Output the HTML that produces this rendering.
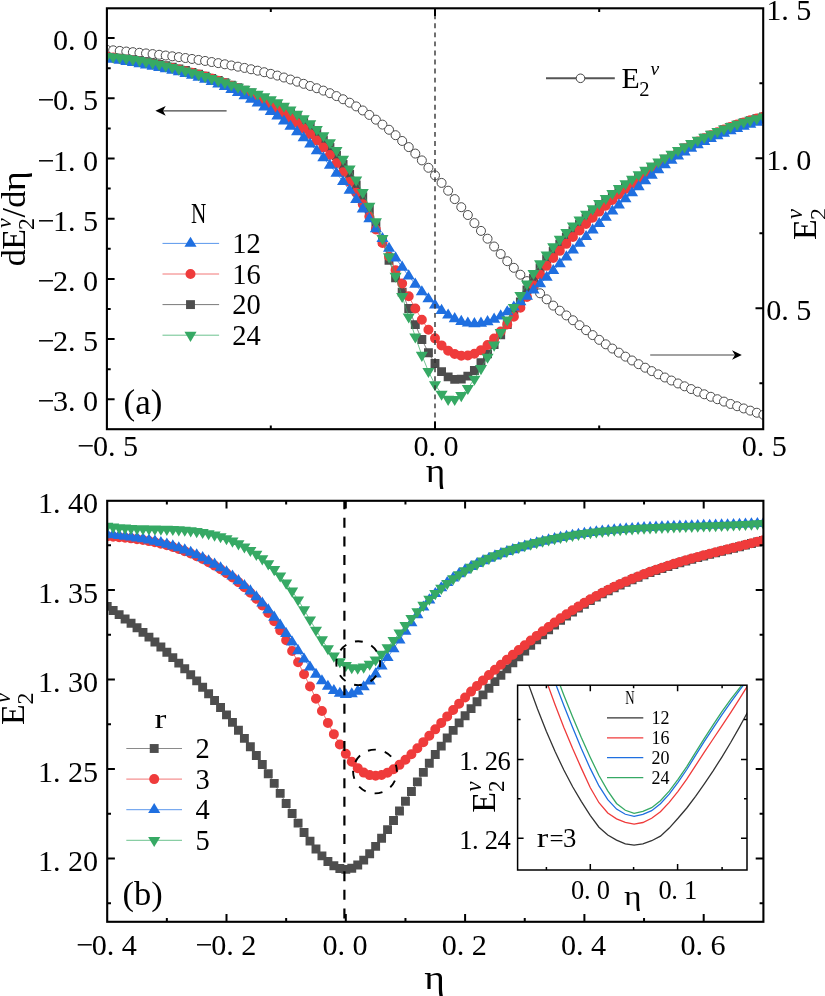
<!DOCTYPE html><html><head><meta charset="utf-8"><style>html,body{margin:0;padding:0;background:#fff;overflow:hidden}svg{display:block;will-change:transform}</style></head><body><svg width="825" height="996" viewBox="0 0 825 996">
<rect width="825" height="996" fill="#fff"/>
<g font-family='"Liberation Serif", serif' fill="#000">
<defs><clipPath id="ca"><rect x="106.9" y="8.3" width="656.3000000000001" height="420.9"/></clipPath><clipPath id="cb"><rect x="107.2" y="500.8" width="656.1999999999999" height="420.99999999999994"/></clipPath><clipPath id="ci"><rect x="517.6" y="685.2" width="229.39999999999998" height="184.79999999999995"/></clipPath></defs>
<g clip-path="url(#ca)">
<path d="M106.60,49.70L113.17,50.30L119.74,50.92L126.30,51.53L132.87,52.15L139.44,52.77L146.01,53.41L152.58,54.08L159.14,54.78L165.71,55.52L172.28,56.30L178.85,57.13L185.42,58.02L191.98,58.95L198.55,59.93L205.12,60.95L211.69,62.02L218.26,63.12L224.82,64.27L231.39,65.45L237.96,66.66L244.53,67.91L251.10,69.25L257.66,70.68L264.23,72.21L270.80,73.83L277.37,75.59L283.94,77.51L290.50,79.54L297.07,81.66L303.64,83.82L310.21,85.98L316.78,88.22L323.34,90.60L329.91,93.20L336.48,96.09L343.05,99.26L349.62,102.70L356.18,106.40L362.75,110.46L369.32,114.92L375.89,119.67L382.46,124.60L389.02,129.75L395.59,135.20L402.16,140.96L408.73,147.08L415.30,153.57L421.86,160.40L428.43,167.77L435.00,175.40L441.57,182.90L448.14,190.70L454.70,199.10L461.27,207.20L467.84,215.00L474.41,223.10L480.98,230.90L487.54,238.70L494.11,246.50L500.68,254.00L507.25,261.20L513.82,267.80L520.38,274.70L526.95,281.10L533.52,287.24L540.09,293.30L546.66,299.30L553.22,305.60L559.79,310.70L566.36,315.41L572.93,320.25L579.50,325.21L586.06,330.18L592.63,335.09L599.20,339.83L605.77,344.30L612.34,348.55L618.90,352.66L625.47,356.64L632.04,360.48L638.61,364.17L645.18,367.70L651.74,371.09L658.31,374.35L664.88,377.49L671.45,380.53L678.02,383.46L684.58,386.30L691.15,389.05L697.72,391.70L704.29,394.28L710.86,396.78L717.42,399.21L723.99,401.60L730.56,403.94L737.13,406.22L743.70,408.45L750.26,410.63L756.83,412.74L763.40,414.80" fill="none" stroke="#555" stroke-width="1"/>
<circle cx="106.60" cy="49.70" r="4.5" fill="#fff" stroke="#4a4a4a" stroke-width="1"/>
<circle cx="113.17" cy="50.30" r="4.5" fill="#fff" stroke="#4a4a4a" stroke-width="1"/>
<circle cx="119.74" cy="50.92" r="4.5" fill="#fff" stroke="#4a4a4a" stroke-width="1"/>
<circle cx="126.30" cy="51.53" r="4.5" fill="#fff" stroke="#4a4a4a" stroke-width="1"/>
<circle cx="132.87" cy="52.15" r="4.5" fill="#fff" stroke="#4a4a4a" stroke-width="1"/>
<circle cx="139.44" cy="52.77" r="4.5" fill="#fff" stroke="#4a4a4a" stroke-width="1"/>
<circle cx="146.01" cy="53.41" r="4.5" fill="#fff" stroke="#4a4a4a" stroke-width="1"/>
<circle cx="152.58" cy="54.08" r="4.5" fill="#fff" stroke="#4a4a4a" stroke-width="1"/>
<circle cx="159.14" cy="54.78" r="4.5" fill="#fff" stroke="#4a4a4a" stroke-width="1"/>
<circle cx="165.71" cy="55.52" r="4.5" fill="#fff" stroke="#4a4a4a" stroke-width="1"/>
<circle cx="172.28" cy="56.30" r="4.5" fill="#fff" stroke="#4a4a4a" stroke-width="1"/>
<circle cx="178.85" cy="57.13" r="4.5" fill="#fff" stroke="#4a4a4a" stroke-width="1"/>
<circle cx="185.42" cy="58.02" r="4.5" fill="#fff" stroke="#4a4a4a" stroke-width="1"/>
<circle cx="191.98" cy="58.95" r="4.5" fill="#fff" stroke="#4a4a4a" stroke-width="1"/>
<circle cx="198.55" cy="59.93" r="4.5" fill="#fff" stroke="#4a4a4a" stroke-width="1"/>
<circle cx="205.12" cy="60.95" r="4.5" fill="#fff" stroke="#4a4a4a" stroke-width="1"/>
<circle cx="211.69" cy="62.02" r="4.5" fill="#fff" stroke="#4a4a4a" stroke-width="1"/>
<circle cx="218.26" cy="63.12" r="4.5" fill="#fff" stroke="#4a4a4a" stroke-width="1"/>
<circle cx="224.82" cy="64.27" r="4.5" fill="#fff" stroke="#4a4a4a" stroke-width="1"/>
<circle cx="231.39" cy="65.45" r="4.5" fill="#fff" stroke="#4a4a4a" stroke-width="1"/>
<circle cx="237.96" cy="66.66" r="4.5" fill="#fff" stroke="#4a4a4a" stroke-width="1"/>
<circle cx="244.53" cy="67.91" r="4.5" fill="#fff" stroke="#4a4a4a" stroke-width="1"/>
<circle cx="251.10" cy="69.25" r="4.5" fill="#fff" stroke="#4a4a4a" stroke-width="1"/>
<circle cx="257.66" cy="70.68" r="4.5" fill="#fff" stroke="#4a4a4a" stroke-width="1"/>
<circle cx="264.23" cy="72.21" r="4.5" fill="#fff" stroke="#4a4a4a" stroke-width="1"/>
<circle cx="270.80" cy="73.83" r="4.5" fill="#fff" stroke="#4a4a4a" stroke-width="1"/>
<circle cx="277.37" cy="75.59" r="4.5" fill="#fff" stroke="#4a4a4a" stroke-width="1"/>
<circle cx="283.94" cy="77.51" r="4.5" fill="#fff" stroke="#4a4a4a" stroke-width="1"/>
<circle cx="290.50" cy="79.54" r="4.5" fill="#fff" stroke="#4a4a4a" stroke-width="1"/>
<circle cx="297.07" cy="81.66" r="4.5" fill="#fff" stroke="#4a4a4a" stroke-width="1"/>
<circle cx="303.64" cy="83.82" r="4.5" fill="#fff" stroke="#4a4a4a" stroke-width="1"/>
<circle cx="310.21" cy="85.98" r="4.5" fill="#fff" stroke="#4a4a4a" stroke-width="1"/>
<circle cx="316.78" cy="88.22" r="4.5" fill="#fff" stroke="#4a4a4a" stroke-width="1"/>
<circle cx="323.34" cy="90.60" r="4.5" fill="#fff" stroke="#4a4a4a" stroke-width="1"/>
<circle cx="329.91" cy="93.20" r="4.5" fill="#fff" stroke="#4a4a4a" stroke-width="1"/>
<circle cx="336.48" cy="96.09" r="4.5" fill="#fff" stroke="#4a4a4a" stroke-width="1"/>
<circle cx="343.05" cy="99.26" r="4.5" fill="#fff" stroke="#4a4a4a" stroke-width="1"/>
<circle cx="349.62" cy="102.70" r="4.5" fill="#fff" stroke="#4a4a4a" stroke-width="1"/>
<circle cx="356.18" cy="106.40" r="4.5" fill="#fff" stroke="#4a4a4a" stroke-width="1"/>
<circle cx="362.75" cy="110.46" r="4.5" fill="#fff" stroke="#4a4a4a" stroke-width="1"/>
<circle cx="369.32" cy="114.92" r="4.5" fill="#fff" stroke="#4a4a4a" stroke-width="1"/>
<circle cx="375.89" cy="119.67" r="4.5" fill="#fff" stroke="#4a4a4a" stroke-width="1"/>
<circle cx="382.46" cy="124.60" r="4.5" fill="#fff" stroke="#4a4a4a" stroke-width="1"/>
<circle cx="389.02" cy="129.75" r="4.5" fill="#fff" stroke="#4a4a4a" stroke-width="1"/>
<circle cx="395.59" cy="135.20" r="4.5" fill="#fff" stroke="#4a4a4a" stroke-width="1"/>
<circle cx="402.16" cy="140.96" r="4.5" fill="#fff" stroke="#4a4a4a" stroke-width="1"/>
<circle cx="408.73" cy="147.08" r="4.5" fill="#fff" stroke="#4a4a4a" stroke-width="1"/>
<circle cx="415.30" cy="153.57" r="4.5" fill="#fff" stroke="#4a4a4a" stroke-width="1"/>
<circle cx="421.86" cy="160.40" r="4.5" fill="#fff" stroke="#4a4a4a" stroke-width="1"/>
<circle cx="428.43" cy="167.77" r="4.5" fill="#fff" stroke="#4a4a4a" stroke-width="1"/>
<circle cx="435.00" cy="175.40" r="4.5" fill="#fff" stroke="#4a4a4a" stroke-width="1"/>
<circle cx="441.57" cy="182.90" r="4.5" fill="#fff" stroke="#4a4a4a" stroke-width="1"/>
<circle cx="448.14" cy="190.70" r="4.5" fill="#fff" stroke="#4a4a4a" stroke-width="1"/>
<circle cx="454.70" cy="199.10" r="4.5" fill="#fff" stroke="#4a4a4a" stroke-width="1"/>
<circle cx="461.27" cy="207.20" r="4.5" fill="#fff" stroke="#4a4a4a" stroke-width="1"/>
<circle cx="467.84" cy="215.00" r="4.5" fill="#fff" stroke="#4a4a4a" stroke-width="1"/>
<circle cx="474.41" cy="223.10" r="4.5" fill="#fff" stroke="#4a4a4a" stroke-width="1"/>
<circle cx="480.98" cy="230.90" r="4.5" fill="#fff" stroke="#4a4a4a" stroke-width="1"/>
<circle cx="487.54" cy="238.70" r="4.5" fill="#fff" stroke="#4a4a4a" stroke-width="1"/>
<circle cx="494.11" cy="246.50" r="4.5" fill="#fff" stroke="#4a4a4a" stroke-width="1"/>
<circle cx="500.68" cy="254.00" r="4.5" fill="#fff" stroke="#4a4a4a" stroke-width="1"/>
<circle cx="507.25" cy="261.20" r="4.5" fill="#fff" stroke="#4a4a4a" stroke-width="1"/>
<circle cx="513.82" cy="267.80" r="4.5" fill="#fff" stroke="#4a4a4a" stroke-width="1"/>
<circle cx="520.38" cy="274.70" r="4.5" fill="#fff" stroke="#4a4a4a" stroke-width="1"/>
<circle cx="526.95" cy="281.10" r="4.5" fill="#fff" stroke="#4a4a4a" stroke-width="1"/>
<circle cx="533.52" cy="287.24" r="4.5" fill="#fff" stroke="#4a4a4a" stroke-width="1"/>
<circle cx="540.09" cy="293.30" r="4.5" fill="#fff" stroke="#4a4a4a" stroke-width="1"/>
<circle cx="546.66" cy="299.30" r="4.5" fill="#fff" stroke="#4a4a4a" stroke-width="1"/>
<circle cx="553.22" cy="305.60" r="4.5" fill="#fff" stroke="#4a4a4a" stroke-width="1"/>
<circle cx="559.79" cy="310.70" r="4.5" fill="#fff" stroke="#4a4a4a" stroke-width="1"/>
<circle cx="566.36" cy="315.41" r="4.5" fill="#fff" stroke="#4a4a4a" stroke-width="1"/>
<circle cx="572.93" cy="320.25" r="4.5" fill="#fff" stroke="#4a4a4a" stroke-width="1"/>
<circle cx="579.50" cy="325.21" r="4.5" fill="#fff" stroke="#4a4a4a" stroke-width="1"/>
<circle cx="586.06" cy="330.18" r="4.5" fill="#fff" stroke="#4a4a4a" stroke-width="1"/>
<circle cx="592.63" cy="335.09" r="4.5" fill="#fff" stroke="#4a4a4a" stroke-width="1"/>
<circle cx="599.20" cy="339.83" r="4.5" fill="#fff" stroke="#4a4a4a" stroke-width="1"/>
<circle cx="605.77" cy="344.30" r="4.5" fill="#fff" stroke="#4a4a4a" stroke-width="1"/>
<circle cx="612.34" cy="348.55" r="4.5" fill="#fff" stroke="#4a4a4a" stroke-width="1"/>
<circle cx="618.90" cy="352.66" r="4.5" fill="#fff" stroke="#4a4a4a" stroke-width="1"/>
<circle cx="625.47" cy="356.64" r="4.5" fill="#fff" stroke="#4a4a4a" stroke-width="1"/>
<circle cx="632.04" cy="360.48" r="4.5" fill="#fff" stroke="#4a4a4a" stroke-width="1"/>
<circle cx="638.61" cy="364.17" r="4.5" fill="#fff" stroke="#4a4a4a" stroke-width="1"/>
<circle cx="645.18" cy="367.70" r="4.5" fill="#fff" stroke="#4a4a4a" stroke-width="1"/>
<circle cx="651.74" cy="371.09" r="4.5" fill="#fff" stroke="#4a4a4a" stroke-width="1"/>
<circle cx="658.31" cy="374.35" r="4.5" fill="#fff" stroke="#4a4a4a" stroke-width="1"/>
<circle cx="664.88" cy="377.49" r="4.5" fill="#fff" stroke="#4a4a4a" stroke-width="1"/>
<circle cx="671.45" cy="380.53" r="4.5" fill="#fff" stroke="#4a4a4a" stroke-width="1"/>
<circle cx="678.02" cy="383.46" r="4.5" fill="#fff" stroke="#4a4a4a" stroke-width="1"/>
<circle cx="684.58" cy="386.30" r="4.5" fill="#fff" stroke="#4a4a4a" stroke-width="1"/>
<circle cx="691.15" cy="389.05" r="4.5" fill="#fff" stroke="#4a4a4a" stroke-width="1"/>
<circle cx="697.72" cy="391.70" r="4.5" fill="#fff" stroke="#4a4a4a" stroke-width="1"/>
<circle cx="704.29" cy="394.28" r="4.5" fill="#fff" stroke="#4a4a4a" stroke-width="1"/>
<circle cx="710.86" cy="396.78" r="4.5" fill="#fff" stroke="#4a4a4a" stroke-width="1"/>
<circle cx="717.42" cy="399.21" r="4.5" fill="#fff" stroke="#4a4a4a" stroke-width="1"/>
<circle cx="723.99" cy="401.60" r="4.5" fill="#fff" stroke="#4a4a4a" stroke-width="1"/>
<circle cx="730.56" cy="403.94" r="4.5" fill="#fff" stroke="#4a4a4a" stroke-width="1"/>
<circle cx="737.13" cy="406.22" r="4.5" fill="#fff" stroke="#4a4a4a" stroke-width="1"/>
<circle cx="743.70" cy="408.45" r="4.5" fill="#fff" stroke="#4a4a4a" stroke-width="1"/>
<circle cx="750.26" cy="410.63" r="4.5" fill="#fff" stroke="#4a4a4a" stroke-width="1"/>
<circle cx="756.83" cy="412.74" r="4.5" fill="#fff" stroke="#4a4a4a" stroke-width="1"/>
<circle cx="763.40" cy="414.80" r="4.5" fill="#fff" stroke="#4a4a4a" stroke-width="1"/>
<path d="M106.60,56.98L113.17,57.52L119.74,58.16L126.30,58.92L132.87,59.78L139.44,60.76L146.01,61.85L152.58,63.04L159.14,64.33L165.71,65.73L172.28,67.24L178.85,68.84L185.42,70.55L191.98,72.35L198.55,74.25L205.12,76.25L211.69,78.34L218.26,80.53L224.82,82.81L231.39,85.18L237.96,87.64L244.53,90.19L251.10,92.83L257.66,95.56L264.23,98.44L270.80,101.51L277.37,104.84L283.94,108.48L290.50,112.48L297.07,116.91L303.64,121.82L310.21,127.26L316.78,133.29L323.34,139.98L329.91,147.36L336.48,155.51L343.05,164.47L349.62,174.30L356.18,185.06L362.75,196.80L369.32,209.67L375.89,224.23L382.46,241.18L389.02,260.24L395.59,277.79L402.16,292.15L408.73,308.47L415.30,324.64L421.86,339.55L428.43,352.68L435.00,363.51L441.57,371.61L448.14,376.90L454.70,379.41L461.27,379.14L467.84,376.12L474.41,370.44L480.98,362.73L487.54,353.86L494.11,344.55L500.68,334.86L507.25,324.62L513.82,313.64L520.38,301.87L526.95,289.87L533.52,278.33L540.09,267.93L546.66,259.12L553.22,251.42L559.79,244.20L566.36,237.32L572.93,230.74L579.50,224.45L586.06,218.41L592.63,212.58L599.20,206.94L605.77,201.47L612.34,196.15L618.90,190.99L625.47,185.99L632.04,181.15L638.61,176.47L645.18,171.94L651.74,167.57L658.31,163.35L664.88,159.30L671.45,155.39L678.02,151.65L684.58,148.06L691.15,144.63L697.72,141.35L704.29,138.22L710.86,135.25L717.42,132.44L723.99,129.77L730.56,127.27L737.13,124.91L743.70,122.71L750.26,120.66L756.83,118.77L763.40,117.03" fill="none" stroke="#4d4d4d" stroke-width="0.7"/><path d="M102.15,52.53h8.9v8.9h-8.9ZM108.72,53.07h8.9v8.9h-8.9ZM115.29,53.71h8.9v8.9h-8.9ZM121.85,54.47h8.9v8.9h-8.9ZM128.42,55.33h8.9v8.9h-8.9ZM134.99,56.31h8.9v8.9h-8.9ZM141.56,57.40h8.9v8.9h-8.9ZM148.13,58.59h8.9v8.9h-8.9ZM154.69,59.88h8.9v8.9h-8.9ZM161.26,61.28h8.9v8.9h-8.9ZM167.83,62.79h8.9v8.9h-8.9ZM174.40,64.39h8.9v8.9h-8.9ZM180.97,66.10h8.9v8.9h-8.9ZM187.53,67.90h8.9v8.9h-8.9ZM194.10,69.80h8.9v8.9h-8.9ZM200.67,71.80h8.9v8.9h-8.9ZM207.24,73.89h8.9v8.9h-8.9ZM213.81,76.08h8.9v8.9h-8.9ZM220.37,78.36h8.9v8.9h-8.9ZM226.94,80.73h8.9v8.9h-8.9ZM233.51,83.19h8.9v8.9h-8.9ZM240.08,85.74h8.9v8.9h-8.9ZM246.65,88.38h8.9v8.9h-8.9ZM253.21,91.11h8.9v8.9h-8.9ZM259.78,93.99h8.9v8.9h-8.9ZM266.35,97.06h8.9v8.9h-8.9ZM272.92,100.39h8.9v8.9h-8.9ZM279.49,104.03h8.9v8.9h-8.9ZM286.05,108.03h8.9v8.9h-8.9ZM292.62,112.46h8.9v8.9h-8.9ZM299.19,117.37h8.9v8.9h-8.9ZM305.76,122.81h8.9v8.9h-8.9ZM312.33,128.84h8.9v8.9h-8.9ZM318.89,135.53h8.9v8.9h-8.9ZM325.46,142.91h8.9v8.9h-8.9ZM332.03,151.06h8.9v8.9h-8.9ZM338.60,160.02h8.9v8.9h-8.9ZM345.17,169.85h8.9v8.9h-8.9ZM351.73,180.61h8.9v8.9h-8.9ZM358.30,192.35h8.9v8.9h-8.9ZM364.87,205.22h8.9v8.9h-8.9ZM371.44,219.78h8.9v8.9h-8.9ZM378.01,236.73h8.9v8.9h-8.9ZM384.57,255.79h8.9v8.9h-8.9ZM391.14,273.34h8.9v8.9h-8.9ZM397.71,287.70h8.9v8.9h-8.9ZM404.28,304.02h8.9v8.9h-8.9ZM410.85,320.19h8.9v8.9h-8.9ZM417.41,335.10h8.9v8.9h-8.9ZM423.98,348.23h8.9v8.9h-8.9ZM430.55,359.06h8.9v8.9h-8.9ZM437.12,367.16h8.9v8.9h-8.9ZM443.69,372.45h8.9v8.9h-8.9ZM450.25,374.96h8.9v8.9h-8.9ZM456.82,374.69h8.9v8.9h-8.9ZM463.39,371.67h8.9v8.9h-8.9ZM469.96,365.99h8.9v8.9h-8.9ZM476.53,358.28h8.9v8.9h-8.9ZM483.09,349.41h8.9v8.9h-8.9ZM489.66,340.10h8.9v8.9h-8.9ZM496.23,330.41h8.9v8.9h-8.9ZM502.80,320.17h8.9v8.9h-8.9ZM509.37,309.19h8.9v8.9h-8.9ZM515.93,297.42h8.9v8.9h-8.9ZM522.50,285.42h8.9v8.9h-8.9ZM529.07,273.88h8.9v8.9h-8.9ZM535.64,263.48h8.9v8.9h-8.9ZM542.21,254.67h8.9v8.9h-8.9ZM548.77,246.97h8.9v8.9h-8.9ZM555.34,239.75h8.9v8.9h-8.9ZM561.91,232.87h8.9v8.9h-8.9ZM568.48,226.29h8.9v8.9h-8.9ZM575.05,220.00h8.9v8.9h-8.9ZM581.61,213.96h8.9v8.9h-8.9ZM588.18,208.13h8.9v8.9h-8.9ZM594.75,202.49h8.9v8.9h-8.9ZM601.32,197.02h8.9v8.9h-8.9ZM607.89,191.70h8.9v8.9h-8.9ZM614.45,186.54h8.9v8.9h-8.9ZM621.02,181.54h8.9v8.9h-8.9ZM627.59,176.70h8.9v8.9h-8.9ZM634.16,172.02h8.9v8.9h-8.9ZM640.73,167.49h8.9v8.9h-8.9ZM647.29,163.12h8.9v8.9h-8.9ZM653.86,158.90h8.9v8.9h-8.9ZM660.43,154.85h8.9v8.9h-8.9ZM667.00,150.94h8.9v8.9h-8.9ZM673.57,147.20h8.9v8.9h-8.9ZM680.13,143.61h8.9v8.9h-8.9ZM686.70,140.18h8.9v8.9h-8.9ZM693.27,136.90h8.9v8.9h-8.9ZM699.84,133.77h8.9v8.9h-8.9ZM706.41,130.80h8.9v8.9h-8.9ZM712.97,127.99h8.9v8.9h-8.9ZM719.54,125.32h8.9v8.9h-8.9ZM726.11,122.82h8.9v8.9h-8.9ZM732.68,120.46h8.9v8.9h-8.9ZM739.25,118.26h8.9v8.9h-8.9ZM745.81,116.21h8.9v8.9h-8.9ZM752.38,114.32h8.9v8.9h-8.9ZM758.95,112.58h8.9v8.9h-8.9Z" fill="#4d4d4d"/>
<path d="M106.60,56.55L113.17,57.60L119.74,58.64L126.30,59.68L132.87,60.75L139.44,61.84L146.01,62.97L152.58,64.15L159.14,65.39L165.71,66.70L172.28,68.08L178.85,69.55L185.42,71.13L191.98,72.81L198.55,74.61L205.12,76.54L211.69,78.61L218.26,80.83L224.82,83.21L231.39,85.76L237.96,88.49L244.53,91.41L251.10,94.54L257.66,97.87L264.23,101.42L270.80,105.21L277.37,109.23L283.94,113.52L290.50,118.11L297.07,123.05L303.64,128.42L310.21,134.24L316.78,140.59L323.34,147.52L329.91,155.07L336.48,163.30L343.05,172.27L349.62,182.04L356.18,192.64L362.75,204.14L369.32,216.50L375.89,229.51L382.46,242.93L389.02,256.55L395.59,270.14L402.16,283.48L408.73,296.32L415.30,308.46L421.86,319.67L428.43,329.71L435.00,338.36L441.57,345.40L448.14,350.63L454.70,354.05L461.27,355.68L467.84,355.55L474.41,353.69L480.98,350.13L487.54,344.95L494.11,338.57L500.68,331.55L507.25,324.39L513.82,316.69L520.38,307.74L526.95,296.99L533.52,285.43L540.09,274.83L546.66,265.85L553.22,258.04L559.79,250.84L566.36,243.85L572.93,237.05L579.50,230.42L586.06,223.98L592.63,217.71L599.20,211.62L605.77,205.71L612.34,199.97L618.90,194.41L625.47,189.04L632.04,183.83L638.61,178.81L645.18,173.96L651.74,169.29L658.31,164.80L664.88,160.48L671.45,156.34L678.02,152.37L684.58,148.59L691.15,144.97L697.72,141.54L704.29,138.27L710.86,135.19L717.42,132.28L723.99,129.54L730.56,126.98L737.13,124.60L743.70,122.39L750.26,120.35L756.83,118.49L763.40,116.80" fill="none" stroke="#ef3b3b" stroke-width="0.7"/><path d="M101.60,56.55a5.0,5.0 0 1,0 10.0,0a5.0,5.0 0 1,0 -10.0,0ZM108.17,57.60a5.0,5.0 0 1,0 10.0,0a5.0,5.0 0 1,0 -10.0,0ZM114.74,58.64a5.0,5.0 0 1,0 10.0,0a5.0,5.0 0 1,0 -10.0,0ZM121.30,59.68a5.0,5.0 0 1,0 10.0,0a5.0,5.0 0 1,0 -10.0,0ZM127.87,60.75a5.0,5.0 0 1,0 10.0,0a5.0,5.0 0 1,0 -10.0,0ZM134.44,61.84a5.0,5.0 0 1,0 10.0,0a5.0,5.0 0 1,0 -10.0,0ZM141.01,62.97a5.0,5.0 0 1,0 10.0,0a5.0,5.0 0 1,0 -10.0,0ZM147.58,64.15a5.0,5.0 0 1,0 10.0,0a5.0,5.0 0 1,0 -10.0,0ZM154.14,65.39a5.0,5.0 0 1,0 10.0,0a5.0,5.0 0 1,0 -10.0,0ZM160.71,66.70a5.0,5.0 0 1,0 10.0,0a5.0,5.0 0 1,0 -10.0,0ZM167.28,68.08a5.0,5.0 0 1,0 10.0,0a5.0,5.0 0 1,0 -10.0,0ZM173.85,69.55a5.0,5.0 0 1,0 10.0,0a5.0,5.0 0 1,0 -10.0,0ZM180.42,71.13a5.0,5.0 0 1,0 10.0,0a5.0,5.0 0 1,0 -10.0,0ZM186.98,72.81a5.0,5.0 0 1,0 10.0,0a5.0,5.0 0 1,0 -10.0,0ZM193.55,74.61a5.0,5.0 0 1,0 10.0,0a5.0,5.0 0 1,0 -10.0,0ZM200.12,76.54a5.0,5.0 0 1,0 10.0,0a5.0,5.0 0 1,0 -10.0,0ZM206.69,78.61a5.0,5.0 0 1,0 10.0,0a5.0,5.0 0 1,0 -10.0,0ZM213.26,80.83a5.0,5.0 0 1,0 10.0,0a5.0,5.0 0 1,0 -10.0,0ZM219.82,83.21a5.0,5.0 0 1,0 10.0,0a5.0,5.0 0 1,0 -10.0,0ZM226.39,85.76a5.0,5.0 0 1,0 10.0,0a5.0,5.0 0 1,0 -10.0,0ZM232.96,88.49a5.0,5.0 0 1,0 10.0,0a5.0,5.0 0 1,0 -10.0,0ZM239.53,91.41a5.0,5.0 0 1,0 10.0,0a5.0,5.0 0 1,0 -10.0,0ZM246.10,94.54a5.0,5.0 0 1,0 10.0,0a5.0,5.0 0 1,0 -10.0,0ZM252.66,97.87a5.0,5.0 0 1,0 10.0,0a5.0,5.0 0 1,0 -10.0,0ZM259.23,101.42a5.0,5.0 0 1,0 10.0,0a5.0,5.0 0 1,0 -10.0,0ZM265.80,105.21a5.0,5.0 0 1,0 10.0,0a5.0,5.0 0 1,0 -10.0,0ZM272.37,109.23a5.0,5.0 0 1,0 10.0,0a5.0,5.0 0 1,0 -10.0,0ZM278.94,113.52a5.0,5.0 0 1,0 10.0,0a5.0,5.0 0 1,0 -10.0,0ZM285.50,118.11a5.0,5.0 0 1,0 10.0,0a5.0,5.0 0 1,0 -10.0,0ZM292.07,123.05a5.0,5.0 0 1,0 10.0,0a5.0,5.0 0 1,0 -10.0,0ZM298.64,128.42a5.0,5.0 0 1,0 10.0,0a5.0,5.0 0 1,0 -10.0,0ZM305.21,134.24a5.0,5.0 0 1,0 10.0,0a5.0,5.0 0 1,0 -10.0,0ZM311.78,140.59a5.0,5.0 0 1,0 10.0,0a5.0,5.0 0 1,0 -10.0,0ZM318.34,147.52a5.0,5.0 0 1,0 10.0,0a5.0,5.0 0 1,0 -10.0,0ZM324.91,155.07a5.0,5.0 0 1,0 10.0,0a5.0,5.0 0 1,0 -10.0,0ZM331.48,163.30a5.0,5.0 0 1,0 10.0,0a5.0,5.0 0 1,0 -10.0,0ZM338.05,172.27a5.0,5.0 0 1,0 10.0,0a5.0,5.0 0 1,0 -10.0,0ZM344.62,182.04a5.0,5.0 0 1,0 10.0,0a5.0,5.0 0 1,0 -10.0,0ZM351.18,192.64a5.0,5.0 0 1,0 10.0,0a5.0,5.0 0 1,0 -10.0,0ZM357.75,204.14a5.0,5.0 0 1,0 10.0,0a5.0,5.0 0 1,0 -10.0,0ZM364.32,216.50a5.0,5.0 0 1,0 10.0,0a5.0,5.0 0 1,0 -10.0,0ZM370.89,229.51a5.0,5.0 0 1,0 10.0,0a5.0,5.0 0 1,0 -10.0,0ZM377.46,242.93a5.0,5.0 0 1,0 10.0,0a5.0,5.0 0 1,0 -10.0,0ZM384.02,256.55a5.0,5.0 0 1,0 10.0,0a5.0,5.0 0 1,0 -10.0,0ZM390.59,270.14a5.0,5.0 0 1,0 10.0,0a5.0,5.0 0 1,0 -10.0,0ZM397.16,283.48a5.0,5.0 0 1,0 10.0,0a5.0,5.0 0 1,0 -10.0,0ZM403.73,296.32a5.0,5.0 0 1,0 10.0,0a5.0,5.0 0 1,0 -10.0,0ZM410.30,308.46a5.0,5.0 0 1,0 10.0,0a5.0,5.0 0 1,0 -10.0,0ZM416.86,319.67a5.0,5.0 0 1,0 10.0,0a5.0,5.0 0 1,0 -10.0,0ZM423.43,329.71a5.0,5.0 0 1,0 10.0,0a5.0,5.0 0 1,0 -10.0,0ZM430.00,338.36a5.0,5.0 0 1,0 10.0,0a5.0,5.0 0 1,0 -10.0,0ZM436.57,345.40a5.0,5.0 0 1,0 10.0,0a5.0,5.0 0 1,0 -10.0,0ZM443.14,350.63a5.0,5.0 0 1,0 10.0,0a5.0,5.0 0 1,0 -10.0,0ZM449.70,354.05a5.0,5.0 0 1,0 10.0,0a5.0,5.0 0 1,0 -10.0,0ZM456.27,355.68a5.0,5.0 0 1,0 10.0,0a5.0,5.0 0 1,0 -10.0,0ZM462.84,355.55a5.0,5.0 0 1,0 10.0,0a5.0,5.0 0 1,0 -10.0,0ZM469.41,353.69a5.0,5.0 0 1,0 10.0,0a5.0,5.0 0 1,0 -10.0,0ZM475.98,350.13a5.0,5.0 0 1,0 10.0,0a5.0,5.0 0 1,0 -10.0,0ZM482.54,344.95a5.0,5.0 0 1,0 10.0,0a5.0,5.0 0 1,0 -10.0,0ZM489.11,338.57a5.0,5.0 0 1,0 10.0,0a5.0,5.0 0 1,0 -10.0,0ZM495.68,331.55a5.0,5.0 0 1,0 10.0,0a5.0,5.0 0 1,0 -10.0,0ZM502.25,324.39a5.0,5.0 0 1,0 10.0,0a5.0,5.0 0 1,0 -10.0,0ZM508.82,316.69a5.0,5.0 0 1,0 10.0,0a5.0,5.0 0 1,0 -10.0,0ZM515.38,307.74a5.0,5.0 0 1,0 10.0,0a5.0,5.0 0 1,0 -10.0,0ZM521.95,296.99a5.0,5.0 0 1,0 10.0,0a5.0,5.0 0 1,0 -10.0,0ZM528.52,285.43a5.0,5.0 0 1,0 10.0,0a5.0,5.0 0 1,0 -10.0,0ZM535.09,274.83a5.0,5.0 0 1,0 10.0,0a5.0,5.0 0 1,0 -10.0,0ZM541.66,265.85a5.0,5.0 0 1,0 10.0,0a5.0,5.0 0 1,0 -10.0,0ZM548.22,258.04a5.0,5.0 0 1,0 10.0,0a5.0,5.0 0 1,0 -10.0,0ZM554.79,250.84a5.0,5.0 0 1,0 10.0,0a5.0,5.0 0 1,0 -10.0,0ZM561.36,243.85a5.0,5.0 0 1,0 10.0,0a5.0,5.0 0 1,0 -10.0,0ZM567.93,237.05a5.0,5.0 0 1,0 10.0,0a5.0,5.0 0 1,0 -10.0,0ZM574.50,230.42a5.0,5.0 0 1,0 10.0,0a5.0,5.0 0 1,0 -10.0,0ZM581.06,223.98a5.0,5.0 0 1,0 10.0,0a5.0,5.0 0 1,0 -10.0,0ZM587.63,217.71a5.0,5.0 0 1,0 10.0,0a5.0,5.0 0 1,0 -10.0,0ZM594.20,211.62a5.0,5.0 0 1,0 10.0,0a5.0,5.0 0 1,0 -10.0,0ZM600.77,205.71a5.0,5.0 0 1,0 10.0,0a5.0,5.0 0 1,0 -10.0,0ZM607.34,199.97a5.0,5.0 0 1,0 10.0,0a5.0,5.0 0 1,0 -10.0,0ZM613.90,194.41a5.0,5.0 0 1,0 10.0,0a5.0,5.0 0 1,0 -10.0,0ZM620.47,189.04a5.0,5.0 0 1,0 10.0,0a5.0,5.0 0 1,0 -10.0,0ZM627.04,183.83a5.0,5.0 0 1,0 10.0,0a5.0,5.0 0 1,0 -10.0,0ZM633.61,178.81a5.0,5.0 0 1,0 10.0,0a5.0,5.0 0 1,0 -10.0,0ZM640.18,173.96a5.0,5.0 0 1,0 10.0,0a5.0,5.0 0 1,0 -10.0,0ZM646.74,169.29a5.0,5.0 0 1,0 10.0,0a5.0,5.0 0 1,0 -10.0,0ZM653.31,164.80a5.0,5.0 0 1,0 10.0,0a5.0,5.0 0 1,0 -10.0,0ZM659.88,160.48a5.0,5.0 0 1,0 10.0,0a5.0,5.0 0 1,0 -10.0,0ZM666.45,156.34a5.0,5.0 0 1,0 10.0,0a5.0,5.0 0 1,0 -10.0,0ZM673.02,152.37a5.0,5.0 0 1,0 10.0,0a5.0,5.0 0 1,0 -10.0,0ZM679.58,148.59a5.0,5.0 0 1,0 10.0,0a5.0,5.0 0 1,0 -10.0,0ZM686.15,144.97a5.0,5.0 0 1,0 10.0,0a5.0,5.0 0 1,0 -10.0,0ZM692.72,141.54a5.0,5.0 0 1,0 10.0,0a5.0,5.0 0 1,0 -10.0,0ZM699.29,138.27a5.0,5.0 0 1,0 10.0,0a5.0,5.0 0 1,0 -10.0,0ZM705.86,135.19a5.0,5.0 0 1,0 10.0,0a5.0,5.0 0 1,0 -10.0,0ZM712.42,132.28a5.0,5.0 0 1,0 10.0,0a5.0,5.0 0 1,0 -10.0,0ZM718.99,129.54a5.0,5.0 0 1,0 10.0,0a5.0,5.0 0 1,0 -10.0,0ZM725.56,126.98a5.0,5.0 0 1,0 10.0,0a5.0,5.0 0 1,0 -10.0,0ZM732.13,124.60a5.0,5.0 0 1,0 10.0,0a5.0,5.0 0 1,0 -10.0,0ZM738.70,122.39a5.0,5.0 0 1,0 10.0,0a5.0,5.0 0 1,0 -10.0,0ZM745.26,120.35a5.0,5.0 0 1,0 10.0,0a5.0,5.0 0 1,0 -10.0,0ZM751.83,118.49a5.0,5.0 0 1,0 10.0,0a5.0,5.0 0 1,0 -10.0,0ZM758.40,116.80a5.0,5.0 0 1,0 10.0,0a5.0,5.0 0 1,0 -10.0,0Z" fill="#ef3b3b"/>
<path d="M106.60,58.23L113.17,59.37L119.74,60.49L126.30,61.60L132.87,62.72L139.44,63.87L146.01,65.05L152.58,66.28L159.14,67.57L165.71,68.94L172.28,70.39L178.85,71.94L185.42,73.61L191.98,75.41L198.55,77.34L205.12,79.43L211.69,81.68L218.26,84.11L224.82,86.73L231.39,89.56L237.96,92.61L244.53,95.88L251.10,99.41L257.66,103.18L264.23,107.23L270.80,111.56L277.37,116.19L283.94,121.13L290.50,126.39L297.07,131.98L303.64,137.92L310.21,144.23L316.78,150.91L323.34,157.98L329.91,165.45L336.48,173.33L343.05,181.65L349.62,190.40L356.18,199.59L362.75,209.13L369.32,218.90L375.89,228.79L382.46,238.69L389.02,248.48L395.59,258.05L402.16,267.29L408.73,276.08L415.30,284.32L421.86,291.95L428.43,298.89L435.00,305.11L441.57,310.54L448.14,315.12L454.70,318.80L461.27,321.52L467.84,323.21L474.41,323.84L480.98,323.35L487.54,321.82L494.11,319.35L500.68,316.03L507.25,311.97L513.82,307.25L520.38,301.99L526.95,296.28L533.52,290.21L540.09,283.89L546.66,277.37L553.22,270.69L559.79,263.91L566.36,257.07L572.93,250.22L579.50,243.41L586.06,236.68L592.63,230.09L599.20,223.67L605.77,217.37L612.34,211.18L618.90,205.05L625.47,198.95L632.04,192.86L638.61,186.85L645.18,180.99L651.74,175.34L658.31,169.98L664.88,164.97L671.45,160.32L678.02,156.02L684.58,152.02L691.15,148.32L697.72,144.89L704.29,141.70L710.86,138.73L717.42,135.97L723.99,133.38L730.56,130.95L737.13,128.65L743.70,126.46L750.26,124.35L756.83,122.30L763.40,120.30" fill="none" stroke="#1f6fe0" stroke-width="0.7"/><path d="M106.60,51.50L112.65,61.60L100.55,61.60ZM113.17,52.64L119.22,62.74L107.12,62.74ZM119.74,53.75L125.79,63.85L113.69,63.85ZM126.30,54.87L132.35,64.97L120.25,64.97ZM132.87,55.99L138.92,66.09L126.82,66.09ZM139.44,57.14L145.49,67.24L133.39,67.24ZM146.01,58.32L152.06,68.42L139.96,68.42ZM152.58,59.55L158.63,69.65L146.53,69.65ZM159.14,60.84L165.19,70.94L153.09,70.94ZM165.71,62.20L171.76,72.30L159.66,72.30ZM172.28,63.66L178.33,73.76L166.23,73.76ZM178.85,65.21L184.90,75.31L172.80,75.31ZM185.42,66.88L191.47,76.98L179.37,76.98ZM191.98,68.67L198.03,78.77L185.93,78.77ZM198.55,70.61L204.60,80.71L192.50,80.71ZM205.12,72.69L211.17,82.79L199.07,82.79ZM211.69,74.95L217.74,85.05L205.64,85.05ZM218.26,77.38L224.31,87.48L212.21,87.48ZM224.82,80.00L230.87,90.10L218.77,90.10ZM231.39,82.83L237.44,92.93L225.34,92.93ZM237.96,85.87L244.01,95.97L231.91,95.97ZM244.53,89.15L250.58,99.25L238.48,99.25ZM251.10,92.67L257.15,102.77L245.05,102.77ZM257.66,96.45L263.71,106.55L251.61,106.55ZM264.23,100.50L270.28,110.60L258.18,110.60ZM270.80,104.83L276.85,114.93L264.75,114.93ZM277.37,109.46L283.42,119.56L271.32,119.56ZM283.94,114.39L289.99,124.49L277.89,124.49ZM290.50,119.65L296.55,129.75L284.45,129.75ZM297.07,125.25L303.12,135.35L291.02,135.35ZM303.64,131.19L309.69,141.29L297.59,141.29ZM310.21,137.49L316.26,147.59L304.16,147.59ZM316.78,144.18L322.83,154.28L310.73,154.28ZM323.34,151.24L329.39,161.34L317.29,161.34ZM329.91,158.72L335.96,168.82L323.86,168.82ZM336.48,166.60L342.53,176.70L330.43,176.70ZM343.05,174.92L349.10,185.02L337.00,185.02ZM349.62,183.67L355.67,193.77L343.57,193.77ZM356.18,192.86L362.23,202.96L350.13,202.96ZM362.75,202.40L368.80,212.50L356.70,212.50ZM369.32,212.17L375.37,222.27L363.27,222.27ZM375.89,222.06L381.94,232.16L369.84,232.16ZM382.46,231.96L388.51,242.06L376.41,242.06ZM389.02,241.75L395.07,251.85L382.97,251.85ZM395.59,251.32L401.64,261.42L389.54,261.42ZM402.16,260.56L408.21,270.66L396.11,270.66ZM408.73,269.35L414.78,279.45L402.68,279.45ZM415.30,277.59L421.35,287.69L409.25,287.69ZM421.86,285.21L427.91,295.31L415.81,295.31ZM428.43,292.16L434.48,302.26L422.38,302.26ZM435.00,298.38L441.05,308.48L428.95,308.48ZM441.57,303.81L447.62,313.91L435.52,313.91ZM448.14,308.39L454.19,318.49L442.09,318.49ZM454.70,312.07L460.75,322.17L448.65,322.17ZM461.27,314.78L467.32,324.88L455.22,324.88ZM467.84,316.48L473.89,326.58L461.79,326.58ZM474.41,317.11L480.46,327.21L468.36,327.21ZM480.98,316.62L487.03,326.72L474.93,326.72ZM487.54,315.09L493.59,325.19L481.49,325.19ZM494.11,312.62L500.16,322.72L488.06,322.72ZM500.68,309.30L506.73,319.40L494.63,319.40ZM507.25,305.23L513.30,315.33L501.20,315.33ZM513.82,300.52L519.87,310.62L507.77,310.62ZM520.38,295.26L526.43,305.36L514.33,305.36ZM526.95,289.54L533.00,299.64L520.90,299.64ZM533.52,283.48L539.57,293.58L527.47,293.58ZM540.09,277.16L546.14,287.26L534.04,287.26ZM546.66,270.64L552.71,280.74L540.61,280.74ZM553.22,263.96L559.27,274.06L547.17,274.06ZM559.79,257.18L565.84,267.28L553.74,267.28ZM566.36,250.34L572.41,260.44L560.31,260.44ZM572.93,243.49L578.98,253.59L566.88,253.59ZM579.50,236.68L585.55,246.78L573.45,246.78ZM586.06,229.95L592.11,240.05L580.01,240.05ZM592.63,223.36L598.68,233.46L586.58,233.46ZM599.20,216.93L605.25,227.03L593.15,227.03ZM605.77,210.64L611.82,220.74L599.72,220.74ZM612.34,204.45L618.39,214.55L606.29,214.55ZM618.90,198.32L624.95,208.42L612.85,208.42ZM625.47,192.22L631.52,202.32L619.42,202.32ZM632.04,186.13L638.09,196.23L625.99,196.23ZM638.61,180.12L644.66,190.22L632.56,190.22ZM645.18,174.25L651.23,184.35L639.13,184.35ZM651.74,168.61L657.79,178.71L645.69,178.71ZM658.31,163.25L664.36,173.35L652.26,173.35ZM664.88,158.24L670.93,168.34L658.83,168.34ZM671.45,153.59L677.50,163.69L665.40,163.69ZM678.02,149.28L684.07,159.38L671.97,159.38ZM684.58,145.29L690.63,155.39L678.53,155.39ZM691.15,141.59L697.20,151.69L685.10,151.69ZM697.72,138.15L703.77,148.25L691.67,148.25ZM704.29,134.96L710.34,145.06L698.24,145.06ZM710.86,132.00L716.91,142.10L704.81,142.10ZM717.42,129.24L723.47,139.34L711.37,139.34ZM723.99,126.65L730.04,136.75L717.94,136.75ZM730.56,124.22L736.61,134.32L724.51,134.32ZM737.13,121.92L743.18,132.02L731.08,132.02ZM743.70,119.72L749.75,129.82L737.65,129.82ZM750.26,117.61L756.31,127.71L744.21,127.71ZM756.83,115.57L762.88,125.67L750.78,125.67ZM763.40,113.56L769.45,123.66L757.35,123.66Z" fill="#1f6fe0"/>
<path d="M106.60,56.36L113.17,56.93L119.74,57.63L126.30,58.46L132.87,59.41L139.44,60.47L146.01,61.65L152.58,62.93L159.14,64.32L165.71,65.80L172.28,67.37L178.85,69.03L185.42,70.77L191.98,72.59L198.55,74.47L205.12,76.43L211.69,78.44L218.26,80.51L224.82,82.62L231.39,84.79L237.96,86.99L244.53,89.24L251.10,91.57L257.66,94.03L264.23,96.66L270.80,99.51L277.37,102.62L283.94,106.04L290.50,109.82L297.07,113.99L303.64,118.61L310.21,123.71L316.78,129.35L323.34,135.59L329.91,142.53L336.48,150.30L343.05,159.04L349.62,168.87L356.18,179.92L362.75,192.32L369.32,206.18L375.89,221.61L382.46,238.49L389.02,256.69L395.59,276.07L402.16,296.38L408.73,316.89L415.30,336.77L421.86,355.20L428.43,371.38L435.00,384.57L441.57,394.06L448.14,399.15L454.70,399.37L461.27,395.40L467.84,388.27L474.41,379.01L480.98,368.48L487.54,357.02L494.11,344.92L500.68,332.43L507.25,319.81L513.82,307.34L520.38,295.27L526.95,283.87L533.52,273.35L540.09,263.70L546.66,254.83L553.22,246.69L559.79,239.19L566.36,232.25L572.93,225.81L579.50,219.78L586.06,214.10L592.63,208.67L599.20,203.44L605.77,198.34L612.34,193.35L618.90,188.47L625.47,183.72L632.04,179.09L638.61,174.59L645.18,170.21L651.74,165.97L658.31,161.86L664.88,157.89L671.45,154.06L678.02,150.38L684.58,146.84L691.15,143.46L697.72,140.22L704.29,137.15L710.86,134.23L717.42,131.47L723.99,128.88L730.56,126.46L737.13,124.21L743.70,122.13L750.26,120.23L756.83,118.52L763.40,116.98" fill="none" stroke="#36a964" stroke-width="0.7"/><path d="M106.60,63.09L112.65,52.99L100.55,52.99ZM113.17,63.66L119.22,53.56L107.12,53.56ZM119.74,64.36L125.79,54.26L113.69,54.26ZM126.30,65.19L132.35,55.09L120.25,55.09ZM132.87,66.14L138.92,56.04L126.82,56.04ZM139.44,67.21L145.49,57.11L133.39,57.11ZM146.01,68.38L152.06,58.28L139.96,58.28ZM152.58,69.67L158.63,59.57L146.53,59.57ZM159.14,71.05L165.19,60.95L153.09,60.95ZM165.71,72.53L171.76,62.43L159.66,62.43ZM172.28,74.11L178.33,64.01L166.23,64.01ZM178.85,75.77L184.90,65.67L172.80,65.67ZM185.42,77.51L191.47,67.41L179.37,67.41ZM191.98,79.32L198.03,69.22L185.93,69.22ZM198.55,81.21L204.60,71.11L192.50,71.11ZM205.12,83.16L211.17,73.06L199.07,73.06ZM211.69,85.17L217.74,75.07L205.64,75.07ZM218.26,87.24L224.31,77.14L212.21,77.14ZM224.82,89.36L230.87,79.26L218.77,79.26ZM231.39,91.52L237.44,81.42L225.34,81.42ZM237.96,93.73L244.01,83.63L231.91,83.63ZM244.53,95.97L250.58,85.87L238.48,85.87ZM251.10,98.31L257.15,88.21L245.05,88.21ZM257.66,100.76L263.71,90.66L251.61,90.66ZM264.23,103.40L270.28,93.30L258.18,93.30ZM270.80,106.24L276.85,96.14L264.75,96.14ZM277.37,109.36L283.42,99.26L271.32,99.26ZM283.94,112.78L289.99,102.68L277.89,102.68ZM290.50,116.55L296.55,106.45L284.45,106.45ZM297.07,120.73L303.12,110.63L291.02,110.63ZM303.64,125.34L309.69,115.24L297.59,115.24ZM310.21,130.45L316.26,120.35L304.16,120.35ZM316.78,136.09L322.83,125.99L310.73,125.99ZM323.34,142.32L329.39,132.22L317.29,132.22ZM329.91,149.26L335.96,139.16L323.86,139.16ZM336.48,157.04L342.53,146.94L330.43,146.94ZM343.05,165.78L349.10,155.68L337.00,155.68ZM349.62,175.61L355.67,165.51L343.57,165.51ZM356.18,186.65L362.23,176.55L350.13,176.55ZM362.75,199.05L368.80,188.95L356.70,188.95ZM369.32,212.92L375.37,202.82L363.27,202.82ZM375.89,228.34L381.94,218.24L369.84,218.24ZM382.46,245.22L388.51,235.12L376.41,235.12ZM389.02,263.42L395.07,253.32L382.97,253.32ZM395.59,282.81L401.64,272.71L389.54,272.71ZM402.16,303.11L408.21,293.01L396.11,293.01ZM408.73,323.62L414.78,313.52L402.68,313.52ZM415.30,343.50L421.35,333.40L409.25,333.40ZM421.86,361.94L427.91,351.84L415.81,351.84ZM428.43,378.11L434.48,368.01L422.38,368.01ZM435.00,391.30L441.05,381.20L428.95,381.20ZM441.57,400.80L447.62,390.70L435.52,390.70ZM448.14,405.88L454.19,395.78L442.09,395.78ZM454.70,406.10L460.75,396.00L448.65,396.00ZM461.27,402.13L467.32,392.03L455.22,392.03ZM467.84,395.01L473.89,384.91L461.79,384.91ZM474.41,385.75L480.46,375.65L468.36,375.65ZM480.98,375.21L487.03,365.11L474.93,365.11ZM487.54,363.76L493.59,353.66L481.49,353.66ZM494.11,351.65L500.16,341.55L488.06,341.55ZM500.68,339.16L506.73,329.06L494.63,329.06ZM507.25,326.55L513.30,316.45L501.20,316.45ZM513.82,314.07L519.87,303.97L507.77,303.97ZM520.38,302.00L526.43,291.90L514.33,291.90ZM526.95,290.60L533.00,280.50L520.90,280.50ZM533.52,280.08L539.57,269.98L527.47,269.98ZM540.09,270.43L546.14,260.33L534.04,260.33ZM546.66,261.57L552.71,251.47L540.61,251.47ZM553.22,253.42L559.27,243.32L547.17,243.32ZM559.79,245.92L565.84,235.82L553.74,235.82ZM566.36,238.99L572.41,228.89L560.31,228.89ZM572.93,232.54L578.98,222.44L566.88,222.44ZM579.50,226.52L585.55,216.42L573.45,216.42ZM586.06,220.83L592.11,210.73L580.01,210.73ZM592.63,215.41L598.68,205.31L586.58,205.31ZM599.20,210.18L605.25,200.08L593.15,200.08ZM605.77,205.07L611.82,194.97L599.72,194.97ZM612.34,200.08L618.39,189.98L606.29,189.98ZM618.90,195.21L624.95,185.11L612.85,185.11ZM625.47,190.45L631.52,180.35L619.42,180.35ZM632.04,185.82L638.09,175.72L625.99,175.72ZM638.61,181.32L644.66,171.22L632.56,171.22ZM645.18,176.94L651.23,166.84L639.13,166.84ZM651.74,172.70L657.79,162.60L645.69,162.60ZM658.31,168.59L664.36,158.49L652.26,158.49ZM664.88,164.62L670.93,154.52L658.83,154.52ZM671.45,160.80L677.50,150.70L665.40,150.70ZM678.02,157.11L684.07,147.01L671.97,147.01ZM684.58,153.58L690.63,143.48L678.53,143.48ZM691.15,150.19L697.20,140.09L685.10,140.09ZM697.72,146.96L703.77,136.86L691.67,136.86ZM704.29,143.88L710.34,133.78L698.24,133.78ZM710.86,140.96L716.91,130.86L704.81,130.86ZM717.42,138.21L723.47,128.11L711.37,128.11ZM723.99,135.62L730.04,125.52L717.94,125.52ZM730.56,133.19L736.61,123.09L724.51,123.09ZM737.13,130.94L743.18,120.84L731.08,120.84ZM743.70,128.87L749.75,118.77L737.65,118.77ZM750.26,126.97L756.31,116.87L744.21,116.87ZM756.83,125.25L762.88,115.15L750.78,115.15ZM763.40,123.71L769.45,113.61L757.35,113.61Z" fill="#36a964"/>
<line x1="435" y1="8.3" x2="435" y2="429.2" stroke="#333" stroke-width="1.4" stroke-dasharray="4.9 4.15" stroke-dashoffset="-6"/>
</g>
<rect x="106.9" y="8.3" width="656.3000000000001" height="420.9" fill="none" stroke="#000" stroke-width="2.1"/>
<path d="M106.9,38.10h7.7M106.9,68.20h3.8M106.9,98.30h7.7M106.9,128.40h3.8M106.9,158.50h7.7M106.9,188.60h3.8M106.9,218.70h7.7M106.9,248.80h3.8M106.9,278.90h7.7M106.9,309.00h3.8M106.9,339.10h7.7M106.9,369.20h3.8M106.9,399.30h7.7M763.2,383.30h-3.8M763.2,308.30h-7.7M763.2,233.30h-3.8M763.2,158.30h-7.7M763.2,83.30h-3.8M270.80,429.2v-3.8M270.80,8.3v3.8M435.00,429.2v-7.7M435.00,8.3v7.7M599.20,429.2v-3.8M599.20,8.3v3.8" stroke="#000" stroke-width="2" fill="none"/>
<text x="53.10 68.10 83.10" y="50.20" font-size="30.2">0.0</text>
<text x="37.20 53.10 68.10 83.10" y="110.40" font-size="30.2">−0.5</text>
<text x="37.20 53.10 68.10 83.10" y="170.60" font-size="30.2">−1.0</text>
<text x="37.20 53.10 68.10 83.10" y="230.80" font-size="30.2">−1.5</text>
<text x="37.20 53.10 68.10 83.10" y="291.00" font-size="30.2">−2.0</text>
<text x="37.20 53.10 68.10 83.10" y="351.20" font-size="30.2">−2.5</text>
<text x="37.20 53.10 68.10 83.10" y="411.40" font-size="30.2">−3.0</text>
<text x="766.20 781.20 796.20" y="20.10" font-size="30.2">1.5</text>
<text x="766.20 781.20 796.20" y="170.10" font-size="30.2">1.0</text>
<text x="766.20 781.20 796.20" y="320.10" font-size="30.2">0.5</text>
<text x="77.05 92.95 107.95 122.95" y="455.60" font-size="30.2">−0.5</text>
<text x="413.40 428.40 443.40" y="455.60" font-size="30.2">0.0</text>
<text x="741.80 756.80 771.80" y="455.60" font-size="30.2">0.5</text>
<g font-size="34" transform="translate(24.5,266.3) rotate(-90)"><text x="0" y="0">d</text><text x="16.5" y="0">E</text><text x="36.3" y="9.4" font-size="24">2</text><text x="38.2" y="-13.1" font-size="22" font-style="italic">ν</text><text x="48.7" y="0">/</text><text x="58.5" y="0">d</text><text x="0" y="0" transform="translate(75,0) scale(1.13,1)">η</text></g>
<g font-size="34" transform="translate(815.9,239.9) rotate(-90)"><text x="0" y="0">E</text><text x="20" y="9.6" font-size="24">2</text><text x="21" y="-13.8" font-size="22.5" font-style="italic">ν</text></g>
<text x="0" y="0" font-size="34" transform="translate(425.8,482.3) scale(1.1,1)">η</text>
<text x="123.6" y="414" font-size="35">(a)</text>
<text x="191" y="223.1" font-size="29.5" transform="translate(191,0) scale(0.72,1) translate(-191,0)">N</text>
<line x1="162.5" y1="243.40" x2="219.1" y2="243.40" stroke="#5a97ec" stroke-width="1"/>
<path d="M190.50,236.67L196.55,246.77L184.45,246.77Z" fill="#1f6fe0"/>
<text x="232.3" y="253.10" font-size="28.5">12</text>
<line x1="162.5" y1="274.00" x2="219.1" y2="274.00" stroke="#f27676" stroke-width="1"/>
<path d="M185.50,274.00a5.0,5.0 0 1,0 10.0,0a5.0,5.0 0 1,0 -10.0,0Z" fill="#ef3b3b"/>
<text x="232.3" y="283.70" font-size="28.5">16</text>
<line x1="162.5" y1="304.60" x2="219.1" y2="304.60" stroke="#7a7a7a" stroke-width="1"/>
<path d="M186.05,300.15h8.9v8.9h-8.9Z" fill="#4d4d4d"/>
<text x="232.3" y="314.30" font-size="28.5">20</text>
<line x1="162.5" y1="335.20" x2="219.1" y2="335.20" stroke="#6cc28e" stroke-width="1"/>
<path d="M190.50,341.93L196.55,331.83L184.45,331.83Z" fill="#36a964"/>
<text x="232.3" y="344.90" font-size="28.5">24</text>
<line x1="546" y1="78.3" x2="614.8" y2="78.3" stroke="#555" stroke-width="2"/>
<circle cx="580.5" cy="78.3" r="4.3" fill="#fff" stroke="#444" stroke-width="1"/>
<text x="621.5" y="88.1" font-size="29.8">E<tspan x="639.2" y="95.7" font-size="20.5">2</tspan><tspan x="650.6" y="75.2" font-size="19.5" font-style="italic">ν</tspan></text>
<line x1="226.6" y1="110.8" x2="160" y2="110.8" stroke="#444" stroke-width="1.2"/>
<path d="M155.4,110.8L165.7,105.9L163,110.8L165.7,115.7Z" fill="#000"/>
<line x1="650.2" y1="355" x2="737" y2="355" stroke="#444" stroke-width="1.2"/>
<path d="M741.8,355L732,350.3L735,355L732,359.7Z" fill="#000"/>
<g clip-path="url(#cb)">
<path d="M107.20,606.39L113.16,610.49L119.13,614.67L125.10,618.94L131.06,623.32L137.03,627.81L142.99,632.41L148.96,637.15L154.92,642.02L160.89,647.05L166.85,652.23L172.82,657.58L178.78,663.11L184.75,668.82L190.71,674.74L196.68,680.85L202.64,687.18L208.61,693.74L214.57,700.53L220.54,707.57L226.50,714.86L232.47,722.41L238.43,730.23L244.40,738.34L250.36,746.73L256.33,755.43L262.29,764.44L268.25,773.77L274.22,783.42L280.19,793.37L286.15,803.43L292.12,813.43L298.08,823.17L304.05,832.48L310.01,841.15L315.98,849.00L321.94,855.86L327.91,861.52L333.87,865.80L339.84,868.49L345.80,869.37L351.76,868.24L357.73,865.06L363.69,860.12L369.66,853.78L375.62,846.41L381.59,838.29L387.56,829.60L393.52,820.45L399.49,810.97L405.45,801.29L411.42,791.55L417.38,781.87L423.35,772.38L429.31,763.20L435.27,754.45L441.24,746.08L447.21,738.06L453.17,730.35L459.13,722.90L465.10,715.68L471.06,708.63L477.03,701.72L483.00,694.92L488.96,688.22L494.93,681.64L500.89,675.19L506.86,668.88L512.82,662.73L518.78,656.74L524.75,650.94L530.72,645.32L536.68,639.90L542.64,634.71L548.61,629.73L554.58,624.97L560.54,620.42L566.50,616.08L572.47,611.93L578.44,607.97L584.40,604.20L590.37,600.60L596.33,597.17L602.30,593.90L608.26,590.78L614.23,587.81L620.19,584.98L626.15,582.28L632.12,579.71L638.09,577.25L644.05,574.91L650.02,572.67L655.98,570.53L661.95,568.47L667.91,566.50L673.88,564.61L679.84,562.78L685.81,561.02L691.77,559.30L697.74,557.64L703.70,556.01L709.66,554.42L715.63,552.85L721.60,551.30L727.56,549.76L733.53,548.23L739.49,546.69L745.46,545.14L751.42,543.57L757.38,541.98L763.35,540.36" fill="none" stroke="#4d4d4d" stroke-width="0.7"/><path d="M102.75,601.94h8.9v8.9h-8.9ZM108.71,606.04h8.9v8.9h-8.9ZM114.68,610.22h8.9v8.9h-8.9ZM120.65,614.49h8.9v8.9h-8.9ZM126.61,618.87h8.9v8.9h-8.9ZM132.58,623.36h8.9v8.9h-8.9ZM138.54,627.96h8.9v8.9h-8.9ZM144.51,632.70h8.9v8.9h-8.9ZM150.47,637.57h8.9v8.9h-8.9ZM156.44,642.60h8.9v8.9h-8.9ZM162.40,647.78h8.9v8.9h-8.9ZM168.37,653.13h8.9v8.9h-8.9ZM174.33,658.66h8.9v8.9h-8.9ZM180.30,664.37h8.9v8.9h-8.9ZM186.26,670.29h8.9v8.9h-8.9ZM192.23,676.40h8.9v8.9h-8.9ZM198.19,682.73h8.9v8.9h-8.9ZM204.16,689.29h8.9v8.9h-8.9ZM210.12,696.08h8.9v8.9h-8.9ZM216.09,703.12h8.9v8.9h-8.9ZM222.05,710.41h8.9v8.9h-8.9ZM228.02,717.96h8.9v8.9h-8.9ZM233.98,725.78h8.9v8.9h-8.9ZM239.95,733.89h8.9v8.9h-8.9ZM245.91,742.28h8.9v8.9h-8.9ZM251.88,750.98h8.9v8.9h-8.9ZM257.84,759.99h8.9v8.9h-8.9ZM263.81,769.32h8.9v8.9h-8.9ZM269.77,778.97h8.9v8.9h-8.9ZM275.74,788.92h8.9v8.9h-8.9ZM281.70,798.98h8.9v8.9h-8.9ZM287.67,808.98h8.9v8.9h-8.9ZM293.63,818.72h8.9v8.9h-8.9ZM299.60,828.03h8.9v8.9h-8.9ZM305.56,836.70h8.9v8.9h-8.9ZM311.53,844.55h8.9v8.9h-8.9ZM317.49,851.41h8.9v8.9h-8.9ZM323.46,857.07h8.9v8.9h-8.9ZM329.42,861.35h8.9v8.9h-8.9ZM335.39,864.04h8.9v8.9h-8.9ZM341.35,864.92h8.9v8.9h-8.9ZM347.31,863.79h8.9v8.9h-8.9ZM353.28,860.61h8.9v8.9h-8.9ZM359.25,855.67h8.9v8.9h-8.9ZM365.21,849.33h8.9v8.9h-8.9ZM371.18,841.96h8.9v8.9h-8.9ZM377.14,833.84h8.9v8.9h-8.9ZM383.11,825.15h8.9v8.9h-8.9ZM389.07,816.00h8.9v8.9h-8.9ZM395.04,806.52h8.9v8.9h-8.9ZM401.00,796.84h8.9v8.9h-8.9ZM406.97,787.10h8.9v8.9h-8.9ZM412.93,777.42h8.9v8.9h-8.9ZM418.90,767.93h8.9v8.9h-8.9ZM424.86,758.75h8.9v8.9h-8.9ZM430.82,750.00h8.9v8.9h-8.9ZM436.79,741.63h8.9v8.9h-8.9ZM442.76,733.61h8.9v8.9h-8.9ZM448.72,725.90h8.9v8.9h-8.9ZM454.69,718.45h8.9v8.9h-8.9ZM460.65,711.23h8.9v8.9h-8.9ZM466.62,704.18h8.9v8.9h-8.9ZM472.58,697.27h8.9v8.9h-8.9ZM478.55,690.47h8.9v8.9h-8.9ZM484.51,683.77h8.9v8.9h-8.9ZM490.48,677.19h8.9v8.9h-8.9ZM496.44,670.74h8.9v8.9h-8.9ZM502.41,664.43h8.9v8.9h-8.9ZM508.37,658.28h8.9v8.9h-8.9ZM514.33,652.29h8.9v8.9h-8.9ZM520.30,646.49h8.9v8.9h-8.9ZM526.26,640.87h8.9v8.9h-8.9ZM532.23,635.45h8.9v8.9h-8.9ZM538.19,630.26h8.9v8.9h-8.9ZM544.16,625.28h8.9v8.9h-8.9ZM550.12,620.52h8.9v8.9h-8.9ZM556.09,615.97h8.9v8.9h-8.9ZM562.05,611.63h8.9v8.9h-8.9ZM568.02,607.48h8.9v8.9h-8.9ZM573.99,603.52h8.9v8.9h-8.9ZM579.95,599.75h8.9v8.9h-8.9ZM585.91,596.15h8.9v8.9h-8.9ZM591.88,592.72h8.9v8.9h-8.9ZM597.85,589.45h8.9v8.9h-8.9ZM603.81,586.33h8.9v8.9h-8.9ZM609.77,583.36h8.9v8.9h-8.9ZM615.74,580.53h8.9v8.9h-8.9ZM621.70,577.83h8.9v8.9h-8.9ZM627.67,575.26h8.9v8.9h-8.9ZM633.63,572.80h8.9v8.9h-8.9ZM639.60,570.46h8.9v8.9h-8.9ZM645.57,568.22h8.9v8.9h-8.9ZM651.53,566.08h8.9v8.9h-8.9ZM657.50,564.02h8.9v8.9h-8.9ZM663.46,562.05h8.9v8.9h-8.9ZM669.42,560.16h8.9v8.9h-8.9ZM675.39,558.33h8.9v8.9h-8.9ZM681.36,556.57h8.9v8.9h-8.9ZM687.32,554.85h8.9v8.9h-8.9ZM693.28,553.19h8.9v8.9h-8.9ZM699.25,551.56h8.9v8.9h-8.9ZM705.21,549.97h8.9v8.9h-8.9ZM711.18,548.40h8.9v8.9h-8.9ZM717.14,546.85h8.9v8.9h-8.9ZM723.11,545.31h8.9v8.9h-8.9ZM729.08,543.78h8.9v8.9h-8.9ZM735.04,542.24h8.9v8.9h-8.9ZM741.00,540.69h8.9v8.9h-8.9ZM746.97,539.12h8.9v8.9h-8.9ZM752.93,537.53h8.9v8.9h-8.9ZM758.90,535.91h8.9v8.9h-8.9Z" fill="#4d4d4d"/>
<path d="M107.20,536.35L113.16,536.71L119.13,537.16L125.10,537.71L131.06,538.36L137.03,539.14L142.99,540.06L148.96,541.12L154.92,542.33L160.89,543.71L166.85,545.28L172.82,547.03L178.78,548.98L184.75,551.15L190.71,553.54L196.68,556.17L202.64,559.05L208.61,562.18L214.57,565.59L220.54,569.28L226.50,573.26L232.47,577.54L238.43,582.16L244.40,587.18L250.36,592.69L256.33,598.79L262.29,605.55L268.25,613.04L274.22,621.29L280.19,630.34L286.15,640.23L292.12,650.95L298.08,662.33L304.05,674.22L310.01,686.42L315.98,698.77L321.94,711.00L327.91,722.88L333.87,734.15L339.84,744.57L345.80,753.87L351.76,761.82L357.73,768.15L363.69,772.62L369.66,775.12L375.62,775.81L381.59,774.92L387.56,772.65L393.52,769.23L399.49,764.87L405.45,759.78L411.42,754.19L417.38,748.28L423.35,742.13L429.31,735.81L435.27,729.37L441.24,722.88L447.21,716.39L453.17,709.96L459.13,703.66L465.10,697.53L471.06,691.62L477.03,685.91L483.00,680.39L488.96,675.02L494.93,669.81L500.89,664.71L506.86,659.73L512.82,654.83L518.78,650.00L524.75,645.23L530.72,640.53L536.68,635.90L542.64,631.37L548.61,626.93L554.58,622.59L560.54,618.37L566.50,614.28L572.47,610.32L578.44,606.51L584.40,602.84L590.37,599.34L596.33,596.00L602.30,592.80L608.26,589.75L614.23,586.83L620.19,584.05L626.15,581.39L632.12,578.85L638.09,576.42L644.05,574.10L650.02,571.87L655.98,569.74L661.95,567.70L667.91,565.74L673.88,563.85L679.84,562.03L685.81,560.27L691.77,558.56L697.74,556.91L703.70,555.29L709.66,553.72L715.63,552.17L721.60,550.65L727.56,549.14L733.53,547.65L739.49,546.16L745.46,544.67L751.42,543.17L757.38,541.66L763.35,540.13" fill="none" stroke="#ef3b3b" stroke-width="0.7"/><path d="M102.20,536.35a5.0,5.0 0 1,0 10.0,0a5.0,5.0 0 1,0 -10.0,0ZM108.16,536.71a5.0,5.0 0 1,0 10.0,0a5.0,5.0 0 1,0 -10.0,0ZM114.13,537.16a5.0,5.0 0 1,0 10.0,0a5.0,5.0 0 1,0 -10.0,0ZM120.10,537.71a5.0,5.0 0 1,0 10.0,0a5.0,5.0 0 1,0 -10.0,0ZM126.06,538.36a5.0,5.0 0 1,0 10.0,0a5.0,5.0 0 1,0 -10.0,0ZM132.03,539.14a5.0,5.0 0 1,0 10.0,0a5.0,5.0 0 1,0 -10.0,0ZM137.99,540.06a5.0,5.0 0 1,0 10.0,0a5.0,5.0 0 1,0 -10.0,0ZM143.96,541.12a5.0,5.0 0 1,0 10.0,0a5.0,5.0 0 1,0 -10.0,0ZM149.92,542.33a5.0,5.0 0 1,0 10.0,0a5.0,5.0 0 1,0 -10.0,0ZM155.89,543.71a5.0,5.0 0 1,0 10.0,0a5.0,5.0 0 1,0 -10.0,0ZM161.85,545.28a5.0,5.0 0 1,0 10.0,0a5.0,5.0 0 1,0 -10.0,0ZM167.82,547.03a5.0,5.0 0 1,0 10.0,0a5.0,5.0 0 1,0 -10.0,0ZM173.78,548.98a5.0,5.0 0 1,0 10.0,0a5.0,5.0 0 1,0 -10.0,0ZM179.75,551.15a5.0,5.0 0 1,0 10.0,0a5.0,5.0 0 1,0 -10.0,0ZM185.71,553.54a5.0,5.0 0 1,0 10.0,0a5.0,5.0 0 1,0 -10.0,0ZM191.68,556.17a5.0,5.0 0 1,0 10.0,0a5.0,5.0 0 1,0 -10.0,0ZM197.64,559.05a5.0,5.0 0 1,0 10.0,0a5.0,5.0 0 1,0 -10.0,0ZM203.61,562.18a5.0,5.0 0 1,0 10.0,0a5.0,5.0 0 1,0 -10.0,0ZM209.57,565.59a5.0,5.0 0 1,0 10.0,0a5.0,5.0 0 1,0 -10.0,0ZM215.54,569.28a5.0,5.0 0 1,0 10.0,0a5.0,5.0 0 1,0 -10.0,0ZM221.50,573.26a5.0,5.0 0 1,0 10.0,0a5.0,5.0 0 1,0 -10.0,0ZM227.47,577.54a5.0,5.0 0 1,0 10.0,0a5.0,5.0 0 1,0 -10.0,0ZM233.43,582.16a5.0,5.0 0 1,0 10.0,0a5.0,5.0 0 1,0 -10.0,0ZM239.40,587.18a5.0,5.0 0 1,0 10.0,0a5.0,5.0 0 1,0 -10.0,0ZM245.36,592.69a5.0,5.0 0 1,0 10.0,0a5.0,5.0 0 1,0 -10.0,0ZM251.33,598.79a5.0,5.0 0 1,0 10.0,0a5.0,5.0 0 1,0 -10.0,0ZM257.29,605.55a5.0,5.0 0 1,0 10.0,0a5.0,5.0 0 1,0 -10.0,0ZM263.25,613.04a5.0,5.0 0 1,0 10.0,0a5.0,5.0 0 1,0 -10.0,0ZM269.22,621.29a5.0,5.0 0 1,0 10.0,0a5.0,5.0 0 1,0 -10.0,0ZM275.19,630.34a5.0,5.0 0 1,0 10.0,0a5.0,5.0 0 1,0 -10.0,0ZM281.15,640.23a5.0,5.0 0 1,0 10.0,0a5.0,5.0 0 1,0 -10.0,0ZM287.12,650.95a5.0,5.0 0 1,0 10.0,0a5.0,5.0 0 1,0 -10.0,0ZM293.08,662.33a5.0,5.0 0 1,0 10.0,0a5.0,5.0 0 1,0 -10.0,0ZM299.05,674.22a5.0,5.0 0 1,0 10.0,0a5.0,5.0 0 1,0 -10.0,0ZM305.01,686.42a5.0,5.0 0 1,0 10.0,0a5.0,5.0 0 1,0 -10.0,0ZM310.98,698.77a5.0,5.0 0 1,0 10.0,0a5.0,5.0 0 1,0 -10.0,0ZM316.94,711.00a5.0,5.0 0 1,0 10.0,0a5.0,5.0 0 1,0 -10.0,0ZM322.91,722.88a5.0,5.0 0 1,0 10.0,0a5.0,5.0 0 1,0 -10.0,0ZM328.87,734.15a5.0,5.0 0 1,0 10.0,0a5.0,5.0 0 1,0 -10.0,0ZM334.84,744.57a5.0,5.0 0 1,0 10.0,0a5.0,5.0 0 1,0 -10.0,0ZM340.80,753.87a5.0,5.0 0 1,0 10.0,0a5.0,5.0 0 1,0 -10.0,0ZM346.76,761.82a5.0,5.0 0 1,0 10.0,0a5.0,5.0 0 1,0 -10.0,0ZM352.73,768.15a5.0,5.0 0 1,0 10.0,0a5.0,5.0 0 1,0 -10.0,0ZM358.69,772.62a5.0,5.0 0 1,0 10.0,0a5.0,5.0 0 1,0 -10.0,0ZM364.66,775.12a5.0,5.0 0 1,0 10.0,0a5.0,5.0 0 1,0 -10.0,0ZM370.62,775.81a5.0,5.0 0 1,0 10.0,0a5.0,5.0 0 1,0 -10.0,0ZM376.59,774.92a5.0,5.0 0 1,0 10.0,0a5.0,5.0 0 1,0 -10.0,0ZM382.56,772.65a5.0,5.0 0 1,0 10.0,0a5.0,5.0 0 1,0 -10.0,0ZM388.52,769.23a5.0,5.0 0 1,0 10.0,0a5.0,5.0 0 1,0 -10.0,0ZM394.49,764.87a5.0,5.0 0 1,0 10.0,0a5.0,5.0 0 1,0 -10.0,0ZM400.45,759.78a5.0,5.0 0 1,0 10.0,0a5.0,5.0 0 1,0 -10.0,0ZM406.42,754.19a5.0,5.0 0 1,0 10.0,0a5.0,5.0 0 1,0 -10.0,0ZM412.38,748.28a5.0,5.0 0 1,0 10.0,0a5.0,5.0 0 1,0 -10.0,0ZM418.35,742.13a5.0,5.0 0 1,0 10.0,0a5.0,5.0 0 1,0 -10.0,0ZM424.31,735.81a5.0,5.0 0 1,0 10.0,0a5.0,5.0 0 1,0 -10.0,0ZM430.27,729.37a5.0,5.0 0 1,0 10.0,0a5.0,5.0 0 1,0 -10.0,0ZM436.24,722.88a5.0,5.0 0 1,0 10.0,0a5.0,5.0 0 1,0 -10.0,0ZM442.21,716.39a5.0,5.0 0 1,0 10.0,0a5.0,5.0 0 1,0 -10.0,0ZM448.17,709.96a5.0,5.0 0 1,0 10.0,0a5.0,5.0 0 1,0 -10.0,0ZM454.13,703.66a5.0,5.0 0 1,0 10.0,0a5.0,5.0 0 1,0 -10.0,0ZM460.10,697.53a5.0,5.0 0 1,0 10.0,0a5.0,5.0 0 1,0 -10.0,0ZM466.06,691.62a5.0,5.0 0 1,0 10.0,0a5.0,5.0 0 1,0 -10.0,0ZM472.03,685.91a5.0,5.0 0 1,0 10.0,0a5.0,5.0 0 1,0 -10.0,0ZM478.00,680.39a5.0,5.0 0 1,0 10.0,0a5.0,5.0 0 1,0 -10.0,0ZM483.96,675.02a5.0,5.0 0 1,0 10.0,0a5.0,5.0 0 1,0 -10.0,0ZM489.93,669.81a5.0,5.0 0 1,0 10.0,0a5.0,5.0 0 1,0 -10.0,0ZM495.89,664.71a5.0,5.0 0 1,0 10.0,0a5.0,5.0 0 1,0 -10.0,0ZM501.86,659.73a5.0,5.0 0 1,0 10.0,0a5.0,5.0 0 1,0 -10.0,0ZM507.82,654.83a5.0,5.0 0 1,0 10.0,0a5.0,5.0 0 1,0 -10.0,0ZM513.78,650.00a5.0,5.0 0 1,0 10.0,0a5.0,5.0 0 1,0 -10.0,0ZM519.75,645.23a5.0,5.0 0 1,0 10.0,0a5.0,5.0 0 1,0 -10.0,0ZM525.72,640.53a5.0,5.0 0 1,0 10.0,0a5.0,5.0 0 1,0 -10.0,0ZM531.68,635.90a5.0,5.0 0 1,0 10.0,0a5.0,5.0 0 1,0 -10.0,0ZM537.64,631.37a5.0,5.0 0 1,0 10.0,0a5.0,5.0 0 1,0 -10.0,0ZM543.61,626.93a5.0,5.0 0 1,0 10.0,0a5.0,5.0 0 1,0 -10.0,0ZM549.58,622.59a5.0,5.0 0 1,0 10.0,0a5.0,5.0 0 1,0 -10.0,0ZM555.54,618.37a5.0,5.0 0 1,0 10.0,0a5.0,5.0 0 1,0 -10.0,0ZM561.50,614.28a5.0,5.0 0 1,0 10.0,0a5.0,5.0 0 1,0 -10.0,0ZM567.47,610.32a5.0,5.0 0 1,0 10.0,0a5.0,5.0 0 1,0 -10.0,0ZM573.44,606.51a5.0,5.0 0 1,0 10.0,0a5.0,5.0 0 1,0 -10.0,0ZM579.40,602.84a5.0,5.0 0 1,0 10.0,0a5.0,5.0 0 1,0 -10.0,0ZM585.37,599.34a5.0,5.0 0 1,0 10.0,0a5.0,5.0 0 1,0 -10.0,0ZM591.33,596.00a5.0,5.0 0 1,0 10.0,0a5.0,5.0 0 1,0 -10.0,0ZM597.30,592.80a5.0,5.0 0 1,0 10.0,0a5.0,5.0 0 1,0 -10.0,0ZM603.26,589.75a5.0,5.0 0 1,0 10.0,0a5.0,5.0 0 1,0 -10.0,0ZM609.23,586.83a5.0,5.0 0 1,0 10.0,0a5.0,5.0 0 1,0 -10.0,0ZM615.19,584.05a5.0,5.0 0 1,0 10.0,0a5.0,5.0 0 1,0 -10.0,0ZM621.15,581.39a5.0,5.0 0 1,0 10.0,0a5.0,5.0 0 1,0 -10.0,0ZM627.12,578.85a5.0,5.0 0 1,0 10.0,0a5.0,5.0 0 1,0 -10.0,0ZM633.09,576.42a5.0,5.0 0 1,0 10.0,0a5.0,5.0 0 1,0 -10.0,0ZM639.05,574.10a5.0,5.0 0 1,0 10.0,0a5.0,5.0 0 1,0 -10.0,0ZM645.02,571.87a5.0,5.0 0 1,0 10.0,0a5.0,5.0 0 1,0 -10.0,0ZM650.98,569.74a5.0,5.0 0 1,0 10.0,0a5.0,5.0 0 1,0 -10.0,0ZM656.95,567.70a5.0,5.0 0 1,0 10.0,0a5.0,5.0 0 1,0 -10.0,0ZM662.91,565.74a5.0,5.0 0 1,0 10.0,0a5.0,5.0 0 1,0 -10.0,0ZM668.88,563.85a5.0,5.0 0 1,0 10.0,0a5.0,5.0 0 1,0 -10.0,0ZM674.84,562.03a5.0,5.0 0 1,0 10.0,0a5.0,5.0 0 1,0 -10.0,0ZM680.81,560.27a5.0,5.0 0 1,0 10.0,0a5.0,5.0 0 1,0 -10.0,0ZM686.77,558.56a5.0,5.0 0 1,0 10.0,0a5.0,5.0 0 1,0 -10.0,0ZM692.74,556.91a5.0,5.0 0 1,0 10.0,0a5.0,5.0 0 1,0 -10.0,0ZM698.70,555.29a5.0,5.0 0 1,0 10.0,0a5.0,5.0 0 1,0 -10.0,0ZM704.66,553.72a5.0,5.0 0 1,0 10.0,0a5.0,5.0 0 1,0 -10.0,0ZM710.63,552.17a5.0,5.0 0 1,0 10.0,0a5.0,5.0 0 1,0 -10.0,0ZM716.60,550.65a5.0,5.0 0 1,0 10.0,0a5.0,5.0 0 1,0 -10.0,0ZM722.56,549.14a5.0,5.0 0 1,0 10.0,0a5.0,5.0 0 1,0 -10.0,0ZM728.53,547.65a5.0,5.0 0 1,0 10.0,0a5.0,5.0 0 1,0 -10.0,0ZM734.49,546.16a5.0,5.0 0 1,0 10.0,0a5.0,5.0 0 1,0 -10.0,0ZM740.46,544.67a5.0,5.0 0 1,0 10.0,0a5.0,5.0 0 1,0 -10.0,0ZM746.42,543.17a5.0,5.0 0 1,0 10.0,0a5.0,5.0 0 1,0 -10.0,0ZM752.38,541.66a5.0,5.0 0 1,0 10.0,0a5.0,5.0 0 1,0 -10.0,0ZM758.35,540.13a5.0,5.0 0 1,0 10.0,0a5.0,5.0 0 1,0 -10.0,0Z" fill="#ef3b3b"/>
<path d="M107.20,534.39L113.16,534.98L119.13,535.63L125.10,536.34L131.06,537.13L137.03,538.02L142.99,539.00L148.96,540.11L154.92,541.36L160.89,542.75L166.85,544.30L172.82,546.03L178.78,547.96L184.75,550.08L190.71,552.43L196.68,555.01L202.64,557.83L208.61,560.92L214.57,564.28L220.54,567.93L226.50,571.89L232.47,576.16L238.43,580.77L244.40,585.73L250.36,591.08L256.33,596.87L262.29,603.15L268.25,609.96L274.22,617.35L280.19,625.31L286.15,633.68L292.12,642.26L298.08,650.82L304.05,659.18L310.01,667.13L315.98,674.46L321.94,680.97L327.91,686.45L333.87,690.69L339.84,693.51L345.80,694.67L351.76,694.00L357.73,691.35L363.69,686.95L369.66,681.08L375.62,674.04L381.59,666.13L387.56,657.63L393.52,648.83L399.49,640.02L405.45,631.32L411.42,622.87L417.38,614.76L423.35,607.12L429.31,600.07L435.27,593.67L441.24,587.90L447.21,582.70L453.17,578.04L459.13,573.85L465.10,570.09L471.06,566.71L477.03,563.67L483.00,560.91L488.96,558.38L494.93,556.03L500.89,553.83L506.86,551.74L512.82,549.76L518.78,547.89L524.75,546.13L530.72,544.47L536.68,542.91L542.64,541.44L548.61,540.06L554.58,538.78L560.54,537.58L566.50,536.46L572.47,535.42L578.44,534.46L584.40,533.57L590.37,532.74L596.33,531.98L602.30,531.29L608.26,530.65L614.23,530.07L620.19,529.53L626.15,529.05L632.12,528.61L638.09,528.21L644.05,527.85L650.02,527.53L655.98,527.23L661.95,526.97L667.91,526.72L673.88,526.50L679.84,526.30L685.81,526.11L691.77,525.93L697.74,525.76L703.70,525.60L709.66,525.43L715.63,525.26L721.60,525.09L727.56,524.90L733.53,524.70L739.49,524.49L745.46,524.26L751.42,524.00L757.38,523.72L763.35,523.41" fill="none" stroke="#1f6fe0" stroke-width="0.7"/><path d="M107.20,527.65L113.25,537.75L101.15,537.75ZM113.16,528.25L119.21,538.35L107.11,538.35ZM119.13,528.90L125.18,539.00L113.08,539.00ZM125.10,529.61L131.15,539.71L119.05,539.71ZM131.06,530.40L137.11,540.50L125.01,540.50ZM137.03,531.28L143.08,541.38L130.98,541.38ZM142.99,532.27L149.04,542.37L136.94,542.37ZM148.96,533.38L155.01,543.48L142.91,543.48ZM154.92,534.62L160.97,544.72L148.87,544.72ZM160.89,536.01L166.94,546.11L154.84,546.11ZM166.85,537.57L172.90,547.67L160.80,547.67ZM172.82,539.30L178.87,549.40L166.77,549.40ZM178.78,541.22L184.83,551.32L172.73,551.32ZM184.75,543.35L190.80,553.45L178.69,553.45ZM190.71,545.69L196.76,555.79L184.66,555.79ZM196.68,548.27L202.73,558.37L190.62,558.37ZM202.64,551.10L208.69,561.20L196.59,561.20ZM208.61,554.19L214.66,564.29L202.56,564.29ZM214.57,557.55L220.62,567.65L208.52,567.65ZM220.54,561.20L226.59,571.30L214.49,571.30ZM226.50,565.16L232.55,575.26L220.45,575.26ZM232.47,569.43L238.52,579.53L226.41,579.53ZM238.43,574.03L244.48,584.13L232.38,584.13ZM244.40,578.99L250.45,589.09L238.34,589.09ZM250.36,584.35L256.41,594.45L244.31,594.45ZM256.33,590.14L262.38,600.24L250.28,600.24ZM262.29,596.42L268.34,606.52L256.24,606.52ZM268.25,603.23L274.31,613.33L262.20,613.33ZM274.22,610.62L280.27,620.72L268.17,620.72ZM280.19,618.58L286.24,628.68L274.13,628.68ZM286.15,626.95L292.20,637.05L280.10,637.05ZM292.12,635.52L298.17,645.62L286.06,645.62ZM298.08,644.09L304.13,654.19L292.03,654.19ZM304.05,652.45L310.10,662.55L298.00,662.55ZM310.01,660.40L316.06,670.50L303.96,670.50ZM315.98,667.73L322.03,677.83L309.93,677.83ZM321.94,674.23L327.99,684.33L315.89,684.33ZM327.91,679.71L333.96,689.81L321.86,689.81ZM333.87,683.96L339.92,694.06L327.82,694.06ZM339.84,686.77L345.89,696.87L333.79,696.87ZM345.80,687.94L351.85,698.04L339.75,698.04ZM351.76,687.26L357.81,697.36L345.71,697.36ZM357.73,684.62L363.78,694.72L351.68,694.72ZM363.69,680.22L369.75,690.32L357.64,690.32ZM369.66,674.35L375.71,684.45L363.61,684.45ZM375.62,667.31L381.68,677.41L369.57,677.41ZM381.59,659.39L387.64,669.49L375.54,669.49ZM387.56,650.89L393.61,660.99L381.50,660.99ZM393.52,642.10L399.57,652.20L387.47,652.20ZM399.49,633.28L405.54,643.38L393.44,643.38ZM405.45,624.59L411.50,634.69L399.40,634.69ZM411.42,616.13L417.47,626.23L405.37,626.23ZM417.38,608.03L423.43,618.13L411.33,618.13ZM423.35,600.39L429.40,610.49L417.30,610.49ZM429.31,593.33L435.36,603.43L423.26,603.43ZM435.27,586.94L441.32,597.04L429.22,597.04ZM441.24,581.16L447.29,591.26L435.19,591.26ZM447.21,575.97L453.26,586.07L441.16,586.07ZM453.17,571.30L459.22,581.40L447.12,581.40ZM459.13,567.12L465.19,577.22L453.08,577.22ZM465.10,563.36L471.15,573.46L459.05,573.46ZM471.06,559.98L477.12,570.08L465.01,570.08ZM477.03,556.94L483.08,567.04L470.98,567.04ZM483.00,554.17L489.05,564.27L476.94,564.27ZM488.96,551.65L495.01,561.75L482.91,561.75ZM494.93,549.30L500.98,559.40L488.88,559.40ZM500.89,547.09L506.94,557.19L494.84,557.19ZM506.86,545.00L512.90,555.10L500.81,555.10ZM512.82,543.03L518.87,553.13L506.77,553.13ZM518.78,541.16L524.83,551.26L512.74,551.26ZM524.75,539.39L530.80,549.49L518.70,549.49ZM530.72,537.73L536.76,547.83L524.67,547.83ZM536.68,536.17L542.73,546.27L530.63,546.27ZM542.64,534.71L548.69,544.81L536.60,544.81ZM548.61,533.33L554.66,543.43L542.56,543.43ZM554.58,532.05L560.62,542.15L548.53,542.15ZM560.54,530.85L566.59,540.95L554.49,540.95ZM566.50,529.73L572.55,539.83L560.46,539.83ZM572.47,528.69L578.52,538.79L566.42,538.79ZM578.44,527.73L584.49,537.83L572.39,537.83ZM584.40,526.83L590.45,536.93L578.35,536.93ZM590.37,526.01L596.41,536.11L584.32,536.11ZM596.33,525.25L602.38,535.35L590.28,535.35ZM602.30,524.55L608.35,534.65L596.25,534.65ZM608.26,523.92L614.31,534.02L602.21,534.02ZM614.23,523.33L620.27,533.43L608.18,533.43ZM620.19,522.80L626.24,532.90L614.14,532.90ZM626.15,522.32L632.20,532.42L620.11,532.42ZM632.12,521.88L638.17,531.98L626.07,531.98ZM638.09,521.48L644.13,531.58L632.04,531.58ZM644.05,521.12L650.10,531.22L638.00,531.22ZM650.02,520.79L656.07,530.89L643.97,530.89ZM655.98,520.50L662.03,530.60L649.93,530.60ZM661.95,520.23L668.00,530.33L655.90,530.33ZM667.91,519.99L673.96,530.09L661.86,530.09ZM673.88,519.77L679.92,529.87L667.83,529.87ZM679.84,519.57L685.89,529.67L673.79,529.67ZM685.81,519.38L691.86,529.48L679.76,529.48ZM691.77,519.20L697.82,529.30L685.72,529.30ZM697.74,519.03L703.78,529.13L691.69,529.13ZM703.70,518.86L709.75,528.96L697.65,528.96ZM709.66,518.70L715.71,528.80L703.62,528.80ZM715.63,518.53L721.68,528.63L709.58,528.63ZM721.60,518.35L727.64,528.45L715.55,528.45ZM727.56,518.17L733.61,528.27L721.51,528.27ZM733.53,517.97L739.58,528.07L727.48,528.07ZM739.49,517.76L745.54,527.86L733.44,527.86ZM745.46,517.52L751.50,527.62L739.41,527.62ZM751.42,517.27L757.47,527.37L745.37,527.37ZM757.38,516.99L763.43,527.09L751.34,527.09ZM763.35,516.67L769.40,526.77L757.30,526.77Z" fill="#1f6fe0"/>
<path d="M107.20,526.13L113.16,526.91L119.13,527.52L125.10,527.97L131.06,528.30L137.03,528.53L142.99,528.69L148.96,528.80L154.92,528.90L160.89,529.01L166.85,529.16L172.82,529.37L178.78,529.67L184.75,530.09L190.71,530.66L196.68,531.40L202.64,532.34L208.61,533.50L214.57,534.92L220.54,536.62L226.50,538.62L232.47,540.96L238.43,543.67L244.40,546.76L250.36,550.26L256.33,554.22L262.29,558.68L268.25,563.72L274.22,569.40L280.19,575.79L286.15,582.95L292.12,590.96L298.08,599.88L304.05,609.64L310.01,619.85L315.98,630.03L321.94,639.74L327.91,648.51L333.87,655.90L339.84,661.55L345.80,665.46L351.76,667.64L357.73,668.12L363.69,666.94L369.66,664.12L375.62,659.75L381.59,654.12L387.56,647.55L393.52,640.38L399.49,632.91L405.45,625.49L411.42,618.36L417.38,611.58L423.35,605.17L429.31,599.12L435.27,593.44L441.24,588.16L447.21,583.26L453.17,578.73L459.13,574.55L465.10,570.70L471.06,567.16L477.03,563.90L483.00,560.91L488.96,558.16L494.93,555.63L500.89,553.31L506.86,551.16L512.82,549.17L518.78,547.32L524.75,545.59L530.72,543.95L536.68,542.42L542.64,540.99L548.61,539.65L554.58,538.40L560.54,537.23L566.50,536.15L572.47,535.15L578.44,534.22L584.40,533.37L590.37,532.58L596.33,531.86L602.30,531.20L608.26,530.60L614.23,530.05L620.19,529.55L626.15,529.10L632.12,528.69L638.09,528.32L644.05,527.99L650.02,527.69L655.98,527.42L661.95,527.17L667.91,526.95L673.88,526.74L679.84,526.55L685.81,526.37L691.77,526.19L697.74,526.02L703.70,525.85L709.66,525.68L715.63,525.49L721.60,525.30L727.56,525.09L733.53,524.87L739.49,524.62L745.46,524.35L751.42,524.05L757.38,523.72L763.35,523.35" fill="none" stroke="#36a964" stroke-width="0.7"/><path d="M107.20,532.86L113.25,522.76L101.15,522.76ZM113.16,533.65L119.21,523.55L107.11,523.55ZM119.13,534.25L125.18,524.15L113.08,524.15ZM125.10,534.70L131.15,524.60L119.05,524.60ZM131.06,535.03L137.11,524.93L125.01,524.93ZM137.03,535.26L143.08,525.16L130.98,525.16ZM142.99,535.42L149.04,525.32L136.94,525.32ZM148.96,535.54L155.01,525.44L142.91,525.44ZM154.92,535.64L160.97,525.54L148.87,525.54ZM160.89,535.75L166.94,525.65L154.84,525.65ZM166.85,535.89L172.90,525.79L160.80,525.79ZM172.82,536.10L178.87,526.00L166.77,526.00ZM178.78,536.41L184.83,526.31L172.73,526.31ZM184.75,536.83L190.80,526.73L178.69,526.73ZM190.71,537.39L196.76,527.29L184.66,527.29ZM196.68,538.13L202.73,528.03L190.62,528.03ZM202.64,539.07L208.69,528.97L196.59,528.97ZM208.61,540.23L214.66,530.13L202.56,530.13ZM214.57,541.65L220.62,531.55L208.52,531.55ZM220.54,543.35L226.59,533.25L214.49,533.25ZM226.50,545.36L232.55,535.26L220.45,535.26ZM232.47,547.70L238.52,537.60L226.41,537.60ZM238.43,550.40L244.48,540.30L232.38,540.30ZM244.40,553.49L250.45,543.39L238.34,543.39ZM250.36,556.99L256.41,546.89L244.31,546.89ZM256.33,560.95L262.38,550.85L250.28,550.85ZM262.29,565.41L268.34,555.31L256.24,555.31ZM268.25,570.45L274.31,560.35L262.20,560.35ZM274.22,576.13L280.27,566.03L268.17,566.03ZM280.19,582.52L286.24,572.42L274.13,572.42ZM286.15,589.69L292.20,579.59L280.10,579.59ZM292.12,597.70L298.17,587.60L286.06,587.60ZM298.08,606.61L304.13,596.51L292.03,596.51ZM304.05,616.38L310.10,606.28L298.00,606.28ZM310.01,626.58L316.06,616.48L303.96,616.48ZM315.98,636.76L322.03,626.66L309.93,626.66ZM321.94,646.47L327.99,636.37L315.89,636.37ZM327.91,655.25L333.96,645.15L321.86,645.15ZM333.87,662.63L339.92,652.53L327.82,652.53ZM339.84,668.28L345.89,658.18L333.79,658.18ZM345.80,672.19L351.85,662.09L339.75,662.09ZM351.76,674.37L357.81,664.27L345.71,664.27ZM357.73,674.86L363.78,664.76L351.68,664.76ZM363.69,673.68L369.75,663.58L357.64,663.58ZM369.66,670.85L375.71,660.75L363.61,660.75ZM375.62,666.48L381.68,656.38L369.57,656.38ZM381.59,660.85L387.64,650.75L375.54,650.75ZM387.56,654.29L393.61,644.19L381.50,644.19ZM393.52,647.11L399.57,637.01L387.47,637.01ZM399.49,639.65L405.54,629.55L393.44,629.55ZM405.45,632.22L411.50,622.12L399.40,622.12ZM411.42,625.09L417.47,614.99L405.37,614.99ZM417.38,618.32L423.43,608.22L411.33,608.22ZM423.35,611.90L429.40,601.80L417.30,601.80ZM429.31,605.85L435.36,595.75L423.26,595.75ZM435.27,600.18L441.32,590.08L429.22,590.08ZM441.24,594.89L447.29,584.79L435.19,584.79ZM447.21,589.99L453.26,579.89L441.16,579.89ZM453.17,585.46L459.22,575.36L447.12,575.36ZM459.13,581.28L465.19,571.18L453.08,571.18ZM465.10,577.43L471.15,567.33L459.05,567.33ZM471.06,573.89L477.12,563.79L465.01,563.79ZM477.03,570.63L483.08,560.53L470.98,560.53ZM483.00,567.64L489.05,557.54L476.94,557.54ZM488.96,564.89L495.01,554.79L482.91,554.79ZM494.93,562.37L500.98,552.27L488.88,552.27ZM500.89,560.04L506.94,549.94L494.84,549.94ZM506.86,557.90L512.90,547.80L500.81,547.80ZM512.82,555.91L518.87,545.81L506.77,545.81ZM518.78,554.05L524.83,543.95L512.74,543.95ZM524.75,552.32L530.80,542.22L518.70,542.22ZM530.72,550.69L536.76,540.59L524.67,540.59ZM536.68,549.16L542.73,539.06L530.63,539.06ZM542.64,547.72L548.69,537.62L536.60,537.62ZM548.61,546.38L554.66,536.28L542.56,536.28ZM554.58,545.13L560.62,535.03L548.53,535.03ZM560.54,543.97L566.59,533.87L554.49,533.87ZM566.50,542.89L572.55,532.79L560.46,532.79ZM572.47,541.88L578.52,531.78L566.42,531.78ZM578.44,540.96L584.49,530.86L572.39,530.86ZM584.40,540.10L590.45,530.00L578.35,530.00ZM590.37,539.32L596.41,529.22L584.32,529.22ZM596.33,538.60L602.38,528.50L590.28,528.50ZM602.30,537.94L608.35,527.84L596.25,527.84ZM608.26,537.33L614.31,527.23L602.21,527.23ZM614.23,536.78L620.27,526.68L608.18,526.68ZM620.19,536.29L626.24,526.19L614.14,526.19ZM626.15,535.83L632.20,525.73L620.11,525.73ZM632.12,535.43L638.17,525.33L626.07,525.33ZM638.09,535.06L644.13,524.96L632.04,524.96ZM644.05,534.72L650.10,524.62L638.00,524.62ZM650.02,534.42L656.07,524.32L643.97,524.32ZM655.98,534.15L662.03,524.05L649.93,524.05ZM661.95,533.91L668.00,523.81L655.90,523.81ZM667.91,533.68L673.96,523.58L661.86,523.58ZM673.88,533.47L679.92,523.37L667.83,523.37ZM679.84,533.28L685.89,523.18L673.79,523.18ZM685.81,533.10L691.86,523.00L679.76,523.00ZM691.77,532.93L697.82,522.83L685.72,522.83ZM697.74,532.75L703.78,522.65L691.69,522.65ZM703.70,532.58L709.75,522.48L697.65,522.48ZM709.66,532.41L715.71,522.31L703.62,522.31ZM715.63,532.23L721.68,522.13L709.58,522.13ZM721.60,532.03L727.64,521.93L715.55,521.93ZM727.56,531.83L733.61,521.73L721.51,521.73ZM733.53,531.60L739.58,521.50L727.48,521.50ZM739.49,531.36L745.54,521.26L733.44,521.26ZM745.46,531.08L751.50,520.98L739.41,520.98ZM751.42,530.78L757.47,520.68L745.37,520.68ZM757.38,530.45L763.43,520.35L751.34,520.35ZM763.35,530.08L769.40,519.98L757.30,519.98Z" fill="#36a964"/>
<line x1="344.4" y1="500.8" x2="344.4" y2="921.8" stroke="#000" stroke-width="2.2" stroke-dasharray="10 8.6" stroke-dashoffset="1.6"/>
<circle cx="358.2" cy="663.2" r="21.9" fill="none" stroke="#000" stroke-width="1.9" stroke-dasharray="8 9.2" stroke-dashoffset="4"/>
<circle cx="375" cy="771.5" r="21.9" fill="none" stroke="#000" stroke-width="1.9" stroke-dasharray="8 9.2" stroke-dashoffset="7.8"/>
</g>
<rect x="107.2" y="500.8" width="656.1999999999999" height="420.99999999999994" fill="none" stroke="#000" stroke-width="2.1"/>
<path d="M107.2,903.25h3.8M763.4,903.25h-3.8M107.2,858.50h7.7M763.4,858.50h-7.7M107.2,813.75h3.8M763.4,813.75h-3.8M107.2,769.00h7.7M763.4,769.00h-7.7M107.2,724.25h3.8M763.4,724.25h-3.8M107.2,679.50h7.7M763.4,679.50h-7.7M107.2,634.75h3.8M763.4,634.75h-3.8M107.2,590.00h7.7M763.4,590.00h-7.7M107.2,545.25h3.8M763.4,545.25h-3.8M166.85,921.8v-3.8M166.85,500.8v3.8M226.50,921.8v-7.7M226.50,500.8v7.7M286.15,921.8v-3.8M286.15,500.8v3.8M345.80,921.8v-7.7M345.80,500.8v7.7M405.45,921.8v-3.8M405.45,500.8v3.8M465.10,921.8v-7.7M465.10,500.8v7.7M524.75,921.8v-3.8M524.75,500.8v3.8M584.40,921.8v-7.7M584.40,500.8v7.7M644.05,921.8v-3.8M644.05,500.8v3.8M703.70,921.8v-7.7M703.70,500.8v7.7" stroke="#000" stroke-width="2" fill="none"/>
<text x="38.10 53.10 68.10 83.10" y="513.10" font-size="30.2">1.40</text>
<text x="38.10 53.10 68.10 83.10" y="602.60" font-size="30.2">1.35</text>
<text x="38.10 53.10 68.10 83.10" y="692.10" font-size="30.2">1.30</text>
<text x="38.10 53.10 68.10 83.10" y="781.60" font-size="30.2">1.25</text>
<text x="38.10 53.10 68.10 83.10" y="871.10" font-size="30.2">1.20</text>
<text x="75.95 91.85 106.85 121.85" y="955.30" font-size="30.2">−0.4</text>
<text x="195.25 211.15 226.15 241.15" y="955.30" font-size="30.2">−0.2</text>
<text x="322.50 337.50 352.50" y="955.30" font-size="30.2">0.0</text>
<text x="441.80 456.80 471.80" y="955.30" font-size="30.2">0.2</text>
<text x="561.10 576.10 591.10" y="955.30" font-size="30.2">0.4</text>
<text x="680.40 695.40 710.40" y="955.30" font-size="30.2">0.6</text>
<g font-size="34" transform="translate(23.7,724.9) rotate(-90)"><text x="0" y="0">E</text><text x="20.4" y="9.3" font-size="24">2</text><text x="22" y="-13.9" font-size="22.5" font-style="italic">ν</text></g>
<text x="0" y="0" font-size="34" transform="translate(424.2,989) scale(1.16,1)">η</text>
<text x="122.6" y="905.2" font-size="34.5">(b)</text>
<text x="0" y="0" font-size="27.4" transform="translate(154.6,727.9) scale(1.3,1)">r</text>
<line x1="126.3" y1="748.50" x2="182" y2="748.50" stroke="#8a8a8a" stroke-width="1"/>
<path d="M149.75,744.05h8.9v8.9h-8.9Z" fill="#4d4d4d"/>
<text x="195.5" y="758.00" font-size="28.5">2</text>
<line x1="126.3" y1="779.10" x2="182" y2="779.10" stroke="#f27676" stroke-width="1"/>
<path d="M149.20,779.10a5.0,5.0 0 1,0 10.0,0a5.0,5.0 0 1,0 -10.0,0Z" fill="#ef3b3b"/>
<text x="195.5" y="788.60" font-size="28.5">3</text>
<line x1="126.3" y1="809.70" x2="182" y2="809.70" stroke="#5a97ec" stroke-width="1"/>
<path d="M154.20,802.97L160.25,813.07L148.15,813.07Z" fill="#1f6fe0"/>
<text x="195.5" y="819.20" font-size="28.5">4</text>
<line x1="126.3" y1="840.30" x2="182" y2="840.30" stroke="#6cc28e" stroke-width="1"/>
<path d="M154.20,847.03L160.25,836.93L148.15,836.93Z" fill="#36a964"/>
<text x="195.5" y="849.80" font-size="28.5">5</text>
<rect x="517.6" y="685.2" width="229.39999999999998" height="184.79999999999995" fill="#fff"/>
<g clip-path="url(#ci)">
<path d="M502.40,602.44L511.18,631.73L519.96,659.26L528.74,685.03L537.52,709.01L546.30,731.20L555.08,751.56L563.86,770.08L572.64,786.75L581.42,801.55L590.20,815.31L598.98,827.23L607.76,834.97L616.54,840.06L625.32,843.83L634.10,845.20L642.88,843.81L651.66,840.71L660.44,836.20L669.22,828.08L678.00,818.28L686.78,808.01L695.56,796.30L704.34,783.87L713.12,770.85L721.90,757.03L730.68,742.53L739.46,727.16L748.24,710.97L757.02,694.15L765.80,676.90" fill="none" stroke="#333" stroke-width="1.3"/>
<path d="M502.40,532.97L511.18,566.45L519.96,597.85L528.74,627.29L537.52,654.86L546.30,680.68L555.08,704.83L563.86,727.43L572.64,748.58L581.42,768.38L590.20,787.50L598.98,802.71L607.76,813.01L616.54,818.84L625.32,822.43L634.10,824.19L642.88,822.51L651.66,818.31L660.44,811.70L669.22,802.44L678.00,791.31L686.78,779.19L695.56,765.62L704.34,752.04L713.12,739.00L721.90,725.96L730.68,712.57L739.46,698.79L748.24,684.69L757.02,670.33L765.80,655.77" fill="none" stroke="#ef3b3b" stroke-width="1.3"/>
<path d="M502.40,530.38L511.18,557.05L519.96,583.31L528.74,609.06L537.52,634.23L546.30,658.74L555.08,682.49L563.86,705.42L572.64,727.46L581.42,748.85L590.20,768.41L598.98,785.92L607.76,799.65L616.54,809.09L625.32,814.26L634.10,816.39L642.88,814.47L651.66,810.64L660.44,803.68L669.22,794.15L678.00,782.35L686.78,769.51L695.56,755.38L704.34,741.43L713.12,728.04L721.90,714.92L730.68,702.30L739.46,690.29L748.24,678.77L757.02,667.61L765.80,656.69" fill="none" stroke="#1f6fe0" stroke-width="1.3"/>
<path d="M502.40,520.35L511.18,546.20L519.96,572.11L528.74,597.86L537.52,623.26L546.30,648.09L555.08,672.14L563.86,695.21L572.64,717.09L581.42,737.80L590.20,757.20L598.98,775.57L607.76,790.92L616.54,803.45L625.32,810.28L634.10,813.29L642.88,811.41L651.66,807.65L660.44,800.68L669.22,791.15L678.00,779.35L686.78,766.52L695.56,752.38L704.34,738.43L713.12,724.90L721.90,711.67L730.68,699.34L739.46,688.06L748.24,677.58L757.02,667.63L765.80,657.94" fill="none" stroke="#36a964" stroke-width="1.3"/>
</g>
<rect x="517.6" y="685.2" width="229.39999999999998" height="184.79999999999995" fill="none" stroke="#000" stroke-width="1.5"/>
<path d="M517.6,719.4h3M747.0,719.4h-3M517.6,759.4h6M747.0,759.4h-6M517.6,798.8h3M747.0,798.8h-3M517.6,838.2h6M747.0,838.2h-6M546.4,870.0v-3M546.4,685.2v3M590.3,870.0v-6M590.3,685.2v6M633.6,870.0v-3M633.6,685.2v3M677.6,870.0v-6M677.6,685.2v6M722.1,870.0v-3M722.1,685.2v3" stroke="#000" stroke-width="1.5" fill="none"/>
<text x="459.20 472.00 484.80 497.60" y="770.40" font-size="26.5">1.26</text>
<text x="459.20 472.00 484.80 497.60" y="849.20" font-size="26.5">1.24</text>
<text x="571.10 583.90 596.70" y="898.60" font-size="26.5">0.0</text>
<text x="658.40 671.20 684.00" y="898.60" font-size="26.5">0.1</text>
<text x="0" y="0" font-size="28" transform="translate(624,905) scale(1.2,1)">η</text>
<g font-size="34" transform="translate(494.7,812.7) rotate(-90)"><text x="0" y="0">E</text><text x="20.6" y="9" font-size="23">2</text><text x="21.2" y="-14.1" font-size="22.5" font-style="italic">ν</text></g>
<text x="0" y="0" font-size="26.5" transform="translate(536.8,847.3) scale(1.3,1)">r</text><text x="549.5" y="847.3" font-size="25">=</text><text x="563" y="847.3" font-size="26.7">3</text>
<text x="625.2" y="704.2" font-size="18" transform="translate(625.2,0) scale(0.72,1) translate(-625.2,0)">N</text>
<line x1="607" y1="717.90" x2="643.3" y2="717.90" stroke="#333" stroke-width="1.2"/>
<text x="651.6" y="723.90" font-size="18">12</text>
<line x1="607" y1="737.80" x2="643.3" y2="737.80" stroke="#ef3b3b" stroke-width="1.2"/>
<text x="651.6" y="743.80" font-size="18">16</text>
<line x1="607" y1="757.70" x2="643.3" y2="757.70" stroke="#1f6fe0" stroke-width="1.2"/>
<text x="651.6" y="763.70" font-size="18">20</text>
<line x1="607" y1="777.60" x2="643.3" y2="777.60" stroke="#36a964" stroke-width="1.2"/>
<text x="651.6" y="783.60" font-size="18">24</text>
</g></svg></body></html>
